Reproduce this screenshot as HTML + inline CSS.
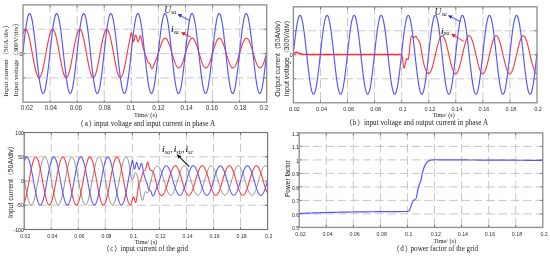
<!DOCTYPE html>
<html><head><meta charset="utf-8"><title>figure</title>
<style>html,body{margin:0;padding:0;background:#fff;}svg{display:block;}svg text{stroke:none;}</style></head>
<body><svg width="550" height="257" viewBox="0 0 550 257">
<defs><filter id="soft" x="0" y="0" width="100%" height="100%"><feGaussianBlur stdDeviation="0.35"/></filter></defs>
<rect width="550" height="257" fill="#fff"/>
<g filter="url(#soft)">
<rect width="550" height="257" fill="#fff"/>
<path d="M50.08,4.90V102.20M77.16,4.90V102.20M104.23,4.90V102.20M131.31,4.90V102.20M158.39,4.90V102.20M185.47,4.90V102.20M212.54,4.90V102.20M239.62,4.90V102.20" stroke="#c8c8c8" stroke-width="1" stroke-dasharray="8.6 3.75" stroke-dashoffset="1.25" fill="none"/>
<path d="M23.00,29.23H266.70M23.00,53.55H266.70M23.00,77.88H266.70" stroke="#c8c8c8" stroke-width="1" stroke-dasharray="8.6 3.75" stroke-dashoffset="10.7" fill="none"/>
<path d="M50.08,4.90v2.4M50.08,102.20v-2.4M77.16,4.90v2.4M77.16,102.20v-2.4M104.23,4.90v2.4M104.23,102.20v-2.4M131.31,4.90v2.4M131.31,102.20v-2.4M158.39,4.90v2.4M158.39,102.20v-2.4M185.47,4.90v2.4M185.47,102.20v-2.4M212.54,4.90v2.4M212.54,102.20v-2.4M239.62,4.90v2.4M239.62,102.20v-2.4M23.00,29.23h2.4M266.70,29.23h-2.4M23.00,53.55h2.4M266.70,53.55h-2.4M23.00,77.88h2.4M266.70,77.88h-2.4" stroke="#555" stroke-width="0.8" fill="none"/>
<path d="M23.00,33.63 L23.34,32.63 L23.68,31.76 L24.02,31.02 L24.35,30.42 L24.69,29.97 L25.03,29.66 L25.37,29.49 L25.71,29.48 L26.05,29.61 L26.38,29.89 L26.72,30.32 L27.06,30.89 L27.40,31.60 L27.74,32.45 L28.08,33.42 L28.42,34.52 L28.75,35.74 L29.09,37.06 L29.43,38.49 L29.77,40.01 L30.11,41.62 L30.45,43.30 L30.78,45.04 L31.12,46.83 L31.46,48.67 L31.80,50.53 L32.14,52.42 L32.48,54.31 L32.82,56.19 L33.15,58.06 L33.49,59.90 L33.83,61.71 L34.17,63.46 L34.51,65.15 L34.85,66.77 L35.19,68.31 L35.52,69.76 L35.86,71.10 L36.20,72.34 L36.54,73.47 L36.88,74.47 L37.22,75.34 L37.55,76.08 L37.89,76.68 L38.23,77.13 L38.57,77.44 L38.91,77.61 L39.25,77.62 L39.59,77.49 L39.92,77.21 L40.26,76.78 L40.60,76.21 L40.94,75.50 L41.28,74.65 L41.62,73.68 L41.95,72.58 L42.29,71.36 L42.63,70.04 L42.97,68.61 L43.31,67.09 L43.65,65.48 L43.99,63.80 L44.32,62.06 L44.66,60.27 L45.00,58.43 L45.34,56.57 L45.68,54.68 L46.02,52.79 L46.35,50.91 L46.69,49.04 L47.03,47.20 L47.37,45.39 L47.71,43.64 L48.05,41.95 L48.39,40.33 L48.72,38.79 L49.06,37.34 L49.40,36.00 L49.74,34.76 L50.08,33.63 L50.42,32.63 L50.75,31.76 L51.09,31.02 L51.43,30.42 L51.77,29.97 L52.11,29.66 L52.45,29.49 L52.79,29.48 L53.12,29.61 L53.46,29.89 L53.80,30.32 L54.14,30.89 L54.48,31.60 L54.82,32.45 L55.15,33.42 L55.49,34.52 L55.83,35.74 L56.17,37.06 L56.51,38.49 L56.85,40.01 L57.19,41.62 L57.52,43.30 L57.86,45.04 L58.20,46.83 L58.54,48.67 L58.88,50.53 L59.22,52.42 L59.56,54.31 L59.89,56.19 L60.23,58.06 L60.57,59.90 L60.91,61.71 L61.25,63.46 L61.59,65.15 L61.92,66.77 L62.26,68.31 L62.60,69.76 L62.94,71.10 L63.28,72.34 L63.62,73.47 L63.96,74.47 L64.29,75.34 L64.63,76.08 L64.97,76.68 L65.31,77.13 L65.65,77.44 L65.99,77.61 L66.32,77.62 L66.66,77.49 L67.00,77.21 L67.34,76.78 L67.68,76.21 L68.02,75.50 L68.36,74.65 L68.69,73.68 L69.03,72.58 L69.37,71.36 L69.71,70.04 L70.05,68.61 L70.39,67.09 L70.72,65.48 L71.06,63.80 L71.40,62.06 L71.74,60.27 L72.08,58.43 L72.42,56.57 L72.76,54.68 L73.09,52.79 L73.43,50.91 L73.77,49.04 L74.11,47.20 L74.45,45.39 L74.79,43.64 L75.12,41.95 L75.46,40.33 L75.80,38.79 L76.14,37.34 L76.48,36.00 L76.82,34.76 L77.16,33.63 L77.49,32.63 L77.83,31.76 L78.17,31.02 L78.51,30.42 L78.85,29.97 L79.19,29.66 L79.52,29.49 L79.86,29.48 L80.20,29.61 L80.54,29.89 L80.88,30.32 L81.22,30.89 L81.56,31.60 L81.89,32.45 L82.23,33.42 L82.57,34.52 L82.91,35.74 L83.25,37.06 L83.59,38.49 L83.93,40.01 L84.26,41.62 L84.60,43.30 L84.94,45.04 L85.28,46.83 L85.62,48.67 L85.96,50.53 L86.29,52.42 L86.63,54.31 L86.97,56.19 L87.31,58.06 L87.65,59.90 L87.99,61.71 L88.33,63.46 L88.66,65.15 L89.00,66.77 L89.34,68.31 L89.68,69.76 L90.02,71.10 L90.36,72.34 L90.69,73.47 L91.03,74.47 L91.37,75.34 L91.71,76.08 L92.05,76.68 L92.39,77.13 L92.73,77.44 L93.06,77.61 L93.40,77.62 L93.74,77.49 L94.08,77.21 L94.42,76.78 L94.76,76.21 L95.09,75.50 L95.43,74.65 L95.77,73.68 L96.11,72.58 L96.45,71.36 L96.79,70.04 L97.13,68.61 L97.46,67.09 L97.80,65.48 L98.14,63.80 L98.48,62.06 L98.82,60.27 L99.16,58.43 L99.49,56.57 L99.83,54.68 L100.17,52.79 L100.51,50.91 L100.85,49.04 L101.19,47.20 L101.53,45.39 L101.86,43.64 L102.20,41.95 L102.54,40.33 L102.88,38.79 L103.22,37.34 L103.56,36.00 L103.89,34.76 L104.23,33.63 L104.57,32.63 L104.91,31.76 L105.25,31.02 L105.59,30.42 L105.93,29.97 L106.26,29.66 L106.60,29.49 L106.94,29.48 L107.28,29.61 L107.62,29.89 L107.96,30.32 L108.30,30.89 L108.63,31.60 L108.97,32.45 L109.31,33.42 L109.65,34.52 L109.99,35.74 L110.33,37.06 L110.66,38.49 L111.00,40.01 L111.34,41.62 L111.68,43.30 L112.02,45.04 L112.36,46.83 L112.70,48.67 L113.03,50.53 L113.37,52.42 L113.71,54.31 L114.05,56.19 L114.39,58.06 L114.73,59.90 L115.06,61.71 L115.40,63.46 L115.74,65.15 L116.08,66.77 L116.42,68.31 L116.76,69.76 L117.10,71.10 L117.43,72.34 L117.77,73.47 L118.11,74.47 L118.45,75.34 L118.79,76.08 L119.13,76.68 L119.46,77.13 L119.80,77.44 L120.14,77.61 L120.48,77.62 L120.82,77.49 L121.16,77.21 L121.50,76.78 L121.83,76.21 L122.17,75.50 L122.51,74.65 L122.85,73.68 L123.19,72.58 L123.53,71.36 L123.86,70.04 L124.20,68.61 L124.54,67.09 L124.88,65.48 L125.22,63.80 L125.56,62.06 L125.90,60.27 L126.23,58.43 L126.57,56.57 L126.91,54.68 L127.25,52.79 L127.59,50.91 L127.93,49.04 L128.26,47.20 L128.60,45.39 L128.94,43.64 L129.28,41.95 L129.62,40.33 L129.96,38.79 L130.30,37.27 L130.63,35.37 L130.97,33.64 L131.31,32.67 L131.65,33.01 L131.99,34.57 L132.33,36.79 L132.67,39.10 L133.00,40.92 L133.34,41.72 L133.68,41.42 L134.02,40.36 L134.36,38.87 L134.70,37.27 L135.03,35.89 L135.37,35.06 L135.71,35.03 L136.05,35.66 L136.39,36.76 L136.73,38.11 L137.07,39.51 L137.40,40.74 L137.74,41.60 L138.08,41.87 L138.42,41.43 L138.76,40.44 L139.10,39.14 L139.43,37.78 L139.77,36.60 L140.11,35.84 L140.45,35.75 L140.79,36.41 L141.13,37.66 L141.47,39.31 L141.80,41.18 L142.14,43.09 L142.48,44.85 L142.82,46.41 L143.16,47.79 L143.50,49.01 L143.83,50.11 L144.17,51.12 L144.51,52.06 L144.85,52.96 L145.19,53.88 L145.53,54.83 L145.87,55.85 L146.20,56.98 L146.54,58.16 L146.88,59.33 L147.22,60.43 L147.56,61.38 L147.90,62.12 L148.23,62.60 L148.57,62.86 L148.91,63.02 L149.25,63.18 L149.59,63.47 L149.93,64.00 L150.27,64.86 L150.60,66.00 L150.94,67.14 L151.28,68.02 L151.62,68.53 L151.96,68.68 L152.30,68.50 L152.63,68.04 L152.97,67.37 L153.31,66.55 L153.65,65.66 L153.99,64.77 L154.33,63.89 L154.67,63.02 L155.00,62.15 L155.34,61.29 L155.68,60.43 L156.02,59.57 L156.36,58.70 L156.70,57.82 L157.04,56.92 L157.37,56.00 L157.71,55.06 L158.05,54.09 L158.39,53.08 L158.73,52.03 L159.07,50.93 L159.40,49.78 L159.74,48.66 L160.08,47.56 L160.42,46.49 L160.76,45.47 L161.10,44.49 L161.44,43.57 L161.77,42.70 L162.11,41.90 L162.45,41.17 L162.79,40.51 L163.13,39.93 L163.47,39.43 L163.80,39.01 L164.14,38.68 L164.48,38.44 L164.82,38.29 L165.16,38.23 L165.50,38.26 L165.84,38.38 L166.17,38.59 L166.51,38.89 L166.85,39.28 L167.19,39.76 L167.53,40.32 L167.87,40.95 L168.20,41.66 L168.54,42.44 L168.88,43.29 L169.22,44.19 L169.56,45.15 L169.90,46.16 L170.24,47.21 L170.57,48.30 L170.91,49.42 L171.25,50.56 L171.59,51.71 L171.93,52.88 L172.27,54.04 L172.60,55.20 L172.94,56.35 L173.28,57.47 L173.62,58.57 L173.96,59.63 L174.30,60.66 L174.64,61.63 L174.97,62.56 L175.31,63.42 L175.65,64.22 L175.99,64.96 L176.33,65.62 L176.67,66.20 L177.00,66.70 L177.34,67.12 L177.68,67.45 L178.02,67.69 L178.36,67.84 L178.70,67.90 L179.04,67.87 L179.37,67.75 L179.71,67.53 L180.05,67.23 L180.39,66.84 L180.73,66.37 L181.07,65.81 L181.41,65.18 L181.74,64.47 L182.08,63.69 L182.42,62.84 L182.76,61.94 L183.10,60.97 L183.44,59.97 L183.77,58.91 L184.11,57.83 L184.45,56.71 L184.79,55.57 L185.13,54.41 L185.47,53.25 L185.81,52.09 L186.14,50.93 L186.48,49.78 L186.82,48.66 L187.16,47.56 L187.50,46.49 L187.84,45.47 L188.17,44.49 L188.51,43.57 L188.85,42.70 L189.19,41.90 L189.53,41.17 L189.87,40.51 L190.21,39.93 L190.54,39.43 L190.88,39.01 L191.22,38.68 L191.56,38.44 L191.90,38.29 L192.24,38.23 L192.57,38.26 L192.91,38.38 L193.25,38.59 L193.59,38.89 L193.93,39.28 L194.27,39.76 L194.61,40.32 L194.94,40.95 L195.28,41.66 L195.62,42.44 L195.96,43.29 L196.30,44.19 L196.64,45.15 L196.97,46.16 L197.31,47.21 L197.65,48.30 L197.99,49.42 L198.33,50.56 L198.67,51.71 L199.01,52.88 L199.34,54.04 L199.68,55.20 L200.02,56.35 L200.36,57.47 L200.70,58.57 L201.04,59.63 L201.37,60.66 L201.71,61.63 L202.05,62.56 L202.39,63.42 L202.73,64.22 L203.07,64.96 L203.41,65.62 L203.74,66.20 L204.08,66.70 L204.42,67.12 L204.76,67.45 L205.10,67.69 L205.44,67.84 L205.78,67.90 L206.11,67.87 L206.45,67.75 L206.79,67.53 L207.13,67.23 L207.47,66.84 L207.81,66.37 L208.14,65.81 L208.48,65.18 L208.82,64.47 L209.16,63.69 L209.50,62.84 L209.84,61.94 L210.18,60.97 L210.51,59.97 L210.85,58.91 L211.19,57.83 L211.53,56.71 L211.87,55.57 L212.21,54.41 L212.54,53.25 L212.88,52.09 L213.22,50.93 L213.56,49.78 L213.90,48.66 L214.24,47.56 L214.58,46.49 L214.91,45.47 L215.25,44.49 L215.59,43.57 L215.93,42.70 L216.27,41.90 L216.61,41.17 L216.94,40.51 L217.28,39.93 L217.62,39.43 L217.96,39.01 L218.30,38.68 L218.64,38.44 L218.98,38.29 L219.31,38.23 L219.65,38.26 L219.99,38.38 L220.33,38.59 L220.67,38.89 L221.01,39.28 L221.34,39.76 L221.68,40.32 L222.02,40.95 L222.36,41.66 L222.70,42.44 L223.04,43.29 L223.38,44.19 L223.71,45.15 L224.05,46.16 L224.39,47.21 L224.73,48.30 L225.07,49.42 L225.41,50.56 L225.74,51.71 L226.08,52.88 L226.42,54.04 L226.76,55.20 L227.10,56.35 L227.44,57.47 L227.78,58.57 L228.11,59.63 L228.45,60.66 L228.79,61.63 L229.13,62.56 L229.47,63.42 L229.81,64.22 L230.15,64.96 L230.48,65.62 L230.82,66.20 L231.16,66.70 L231.50,67.12 L231.84,67.45 L232.18,67.69 L232.51,67.84 L232.85,67.90 L233.19,67.87 L233.53,67.75 L233.87,67.53 L234.21,67.23 L234.55,66.84 L234.88,66.37 L235.22,65.81 L235.56,65.18 L235.90,64.47 L236.24,63.69 L236.58,62.84 L236.91,61.94 L237.25,60.97 L237.59,59.97 L237.93,58.91 L238.27,57.83 L238.61,56.71 L238.95,55.57 L239.28,54.41 L239.62,53.25 L239.96,52.09 L240.30,50.93 L240.64,49.78 L240.98,48.66 L241.31,47.56 L241.65,46.49 L241.99,45.47 L242.33,44.49 L242.67,43.57 L243.01,42.70 L243.35,41.90 L243.68,41.17 L244.02,40.51 L244.36,39.93 L244.70,39.43 L245.04,39.01 L245.38,38.68 L245.71,38.44 L246.05,38.29 L246.39,38.23 L246.73,38.26 L247.07,38.38 L247.41,38.59 L247.75,38.89 L248.08,39.28 L248.42,39.76 L248.76,40.32 L249.10,40.95 L249.44,41.66 L249.78,42.44 L250.11,43.29 L250.45,44.19 L250.79,45.15 L251.13,46.16 L251.47,47.21 L251.81,48.30 L252.15,49.42 L252.48,50.56 L252.82,51.71 L253.16,52.88 L253.50,54.04 L253.84,55.20 L254.18,56.35 L254.52,57.47 L254.85,58.57 L255.19,59.63 L255.53,60.66 L255.87,61.63 L256.21,62.56 L256.55,63.42 L256.88,64.22 L257.22,64.96 L257.56,65.62 L257.90,66.20 L258.24,66.70 L258.58,67.12 L258.92,67.45 L259.25,67.69 L259.59,67.84 L259.93,67.90 L260.27,67.87 L260.61,67.75 L260.95,67.53 L261.28,67.23 L261.62,66.84 L261.96,66.37 L262.30,65.81 L262.64,65.18 L262.98,64.47 L263.32,63.69 L263.65,62.84 L263.99,61.94 L264.33,60.97 L264.67,59.97 L265.01,58.91 L265.35,57.83 L265.68,56.71 L266.02,55.57 L266.36,54.41 L266.70,53.25" stroke="#ff3535" stroke-width="1.10" fill="none" stroke-linejoin="round"/>
<path d="M23.00,51.92 L23.34,48.79 L23.68,45.69 L24.02,42.63 L24.35,39.65 L24.69,36.75 L25.03,33.96 L25.37,31.28 L25.71,28.74 L26.05,26.36 L26.38,24.14 L26.72,22.11 L27.06,20.26 L27.40,18.63 L27.74,17.21 L28.08,16.01 L28.42,15.04 L28.75,14.32 L29.09,13.83 L29.43,13.59 L29.77,13.59 L30.11,13.84 L30.45,14.34 L30.78,15.08 L31.12,16.05 L31.46,17.26 L31.80,18.69 L32.14,20.33 L32.48,22.18 L32.82,24.23 L33.15,26.45 L33.49,28.84 L33.83,31.38 L34.17,34.06 L34.51,36.86 L34.85,39.77 L35.19,42.76 L35.52,45.81 L35.86,48.91 L36.20,52.04 L36.54,55.18 L36.88,58.31 L37.22,61.41 L37.55,64.47 L37.89,67.45 L38.23,70.35 L38.57,73.14 L38.91,75.82 L39.25,78.36 L39.59,80.74 L39.92,82.96 L40.26,84.99 L40.60,86.84 L40.94,88.47 L41.28,89.89 L41.62,91.09 L41.95,92.06 L42.29,92.78 L42.63,93.27 L42.97,93.51 L43.31,93.51 L43.65,93.26 L43.99,92.76 L44.32,92.02 L44.66,91.05 L45.00,89.84 L45.34,88.41 L45.68,86.77 L46.02,84.92 L46.35,82.87 L46.69,80.65 L47.03,78.26 L47.37,75.72 L47.71,73.04 L48.05,70.24 L48.39,67.33 L48.72,64.34 L49.06,61.29 L49.40,58.19 L49.74,55.06 L50.08,51.92 L50.42,48.79 L50.75,45.69 L51.09,42.63 L51.43,39.65 L51.77,36.75 L52.11,33.96 L52.45,31.28 L52.79,28.74 L53.12,26.36 L53.46,24.14 L53.80,22.11 L54.14,20.26 L54.48,18.63 L54.82,17.21 L55.15,16.01 L55.49,15.04 L55.83,14.32 L56.17,13.83 L56.51,13.59 L56.85,13.59 L57.19,13.84 L57.52,14.34 L57.86,15.08 L58.20,16.05 L58.54,17.26 L58.88,18.69 L59.22,20.33 L59.56,22.18 L59.89,24.23 L60.23,26.45 L60.57,28.84 L60.91,31.38 L61.25,34.06 L61.59,36.86 L61.92,39.77 L62.26,42.76 L62.60,45.81 L62.94,48.91 L63.28,52.04 L63.62,55.18 L63.96,58.31 L64.29,61.41 L64.63,64.47 L64.97,67.45 L65.31,70.35 L65.65,73.14 L65.99,75.82 L66.32,78.36 L66.66,80.74 L67.00,82.96 L67.34,84.99 L67.68,86.84 L68.02,88.47 L68.36,89.89 L68.69,91.09 L69.03,92.06 L69.37,92.78 L69.71,93.27 L70.05,93.51 L70.39,93.51 L70.72,93.26 L71.06,92.76 L71.40,92.02 L71.74,91.05 L72.08,89.84 L72.42,88.41 L72.76,86.77 L73.09,84.92 L73.43,82.87 L73.77,80.65 L74.11,78.26 L74.45,75.72 L74.79,73.04 L75.12,70.24 L75.46,67.33 L75.80,64.34 L76.14,61.29 L76.48,58.19 L76.82,55.06 L77.16,51.92 L77.49,48.79 L77.83,45.69 L78.17,42.63 L78.51,39.65 L78.85,36.75 L79.19,33.96 L79.52,31.28 L79.86,28.74 L80.20,26.36 L80.54,24.14 L80.88,22.11 L81.22,20.26 L81.56,18.63 L81.89,17.21 L82.23,16.01 L82.57,15.04 L82.91,14.32 L83.25,13.83 L83.59,13.59 L83.93,13.59 L84.26,13.84 L84.60,14.34 L84.94,15.08 L85.28,16.05 L85.62,17.26 L85.96,18.69 L86.29,20.33 L86.63,22.18 L86.97,24.23 L87.31,26.45 L87.65,28.84 L87.99,31.38 L88.33,34.06 L88.66,36.86 L89.00,39.77 L89.34,42.76 L89.68,45.81 L90.02,48.91 L90.36,52.04 L90.69,55.18 L91.03,58.31 L91.37,61.41 L91.71,64.47 L92.05,67.45 L92.39,70.35 L92.73,73.14 L93.06,75.82 L93.40,78.36 L93.74,80.74 L94.08,82.96 L94.42,84.99 L94.76,86.84 L95.09,88.47 L95.43,89.89 L95.77,91.09 L96.11,92.06 L96.45,92.78 L96.79,93.27 L97.13,93.51 L97.46,93.51 L97.80,93.26 L98.14,92.76 L98.48,92.02 L98.82,91.05 L99.16,89.84 L99.49,88.41 L99.83,86.77 L100.17,84.92 L100.51,82.87 L100.85,80.65 L101.19,78.26 L101.53,75.72 L101.86,73.04 L102.20,70.24 L102.54,67.33 L102.88,64.34 L103.22,61.29 L103.56,58.19 L103.89,55.06 L104.23,51.92 L104.57,48.79 L104.91,45.69 L105.25,42.63 L105.59,39.65 L105.93,36.75 L106.26,33.96 L106.60,31.28 L106.94,28.74 L107.28,26.36 L107.62,24.14 L107.96,22.11 L108.30,20.26 L108.63,18.63 L108.97,17.21 L109.31,16.01 L109.65,15.04 L109.99,14.32 L110.33,13.83 L110.66,13.59 L111.00,13.59 L111.34,13.84 L111.68,14.34 L112.02,15.08 L112.36,16.05 L112.70,17.26 L113.03,18.69 L113.37,20.33 L113.71,22.18 L114.05,24.23 L114.39,26.45 L114.73,28.84 L115.06,31.38 L115.40,34.06 L115.74,36.86 L116.08,39.77 L116.42,42.76 L116.76,45.81 L117.10,48.91 L117.43,52.04 L117.77,55.18 L118.11,58.31 L118.45,61.41 L118.79,64.47 L119.13,67.45 L119.46,70.35 L119.80,73.14 L120.14,75.82 L120.48,78.36 L120.82,80.74 L121.16,82.96 L121.50,84.99 L121.83,86.84 L122.17,88.47 L122.51,89.89 L122.85,91.09 L123.19,92.06 L123.53,92.78 L123.86,93.27 L124.20,93.51 L124.54,93.51 L124.88,93.26 L125.22,92.76 L125.56,92.02 L125.90,91.05 L126.23,89.84 L126.57,88.41 L126.91,86.77 L127.25,84.92 L127.59,82.87 L127.93,80.65 L128.26,78.26 L128.60,75.72 L128.94,73.04 L129.28,70.24 L129.62,67.33 L129.96,64.34 L130.30,61.29 L130.63,58.19 L130.97,55.06 L131.31,51.92 L131.65,48.79 L131.99,45.69 L132.33,42.63 L132.67,39.65 L133.00,36.75 L133.34,33.96 L133.68,31.28 L134.02,28.74 L134.36,26.36 L134.70,24.14 L135.03,22.11 L135.37,20.26 L135.71,18.63 L136.05,17.21 L136.39,16.01 L136.73,15.04 L137.07,14.32 L137.40,13.83 L137.74,13.59 L138.08,13.59 L138.42,13.84 L138.76,14.34 L139.10,15.08 L139.43,16.05 L139.77,17.26 L140.11,18.69 L140.45,20.33 L140.79,22.18 L141.13,24.23 L141.47,26.45 L141.80,28.84 L142.14,31.38 L142.48,34.06 L142.82,36.86 L143.16,39.77 L143.50,42.76 L143.83,45.81 L144.17,48.91 L144.51,52.04 L144.85,55.18 L145.19,58.31 L145.53,61.41 L145.87,64.47 L146.20,67.45 L146.54,70.35 L146.88,73.14 L147.22,75.82 L147.56,78.36 L147.90,80.74 L148.23,82.96 L148.57,84.99 L148.91,86.84 L149.25,88.47 L149.59,89.89 L149.93,91.09 L150.27,92.06 L150.60,92.78 L150.94,93.27 L151.28,93.51 L151.62,93.51 L151.96,93.26 L152.30,92.76 L152.63,92.02 L152.97,91.05 L153.31,89.84 L153.65,88.41 L153.99,86.77 L154.33,84.92 L154.67,82.87 L155.00,80.65 L155.34,78.26 L155.68,75.72 L156.02,73.04 L156.36,70.24 L156.70,67.33 L157.04,64.34 L157.37,61.29 L157.71,58.19 L158.05,55.06 L158.39,51.92 L158.73,48.79 L159.07,45.69 L159.40,42.63 L159.74,39.65 L160.08,36.75 L160.42,33.96 L160.76,31.28 L161.10,28.74 L161.44,26.36 L161.77,24.14 L162.11,22.11 L162.45,20.26 L162.79,18.63 L163.13,17.21 L163.47,16.01 L163.80,15.04 L164.14,14.32 L164.48,13.83 L164.82,13.59 L165.16,13.59 L165.50,13.84 L165.84,14.34 L166.17,15.08 L166.51,16.05 L166.85,17.26 L167.19,18.69 L167.53,20.33 L167.87,22.18 L168.20,24.23 L168.54,26.45 L168.88,28.84 L169.22,31.38 L169.56,34.06 L169.90,36.86 L170.24,39.77 L170.57,42.76 L170.91,45.81 L171.25,48.91 L171.59,52.04 L171.93,55.18 L172.27,58.31 L172.60,61.41 L172.94,64.47 L173.28,67.45 L173.62,70.35 L173.96,73.14 L174.30,75.82 L174.64,78.36 L174.97,80.74 L175.31,82.96 L175.65,84.99 L175.99,86.84 L176.33,88.47 L176.67,89.89 L177.00,91.09 L177.34,92.06 L177.68,92.78 L178.02,93.27 L178.36,93.51 L178.70,93.51 L179.04,93.26 L179.37,92.76 L179.71,92.02 L180.05,91.05 L180.39,89.84 L180.73,88.41 L181.07,86.77 L181.41,84.92 L181.74,82.87 L182.08,80.65 L182.42,78.26 L182.76,75.72 L183.10,73.04 L183.44,70.24 L183.77,67.33 L184.11,64.34 L184.45,61.29 L184.79,58.19 L185.13,55.06 L185.47,51.92 L185.81,48.79 L186.14,45.69 L186.48,42.63 L186.82,39.65 L187.16,36.75 L187.50,33.96 L187.84,31.28 L188.17,28.74 L188.51,26.36 L188.85,24.14 L189.19,22.11 L189.53,20.26 L189.87,18.63 L190.21,17.21 L190.54,16.01 L190.88,15.04 L191.22,14.32 L191.56,13.83 L191.90,13.59 L192.24,13.59 L192.57,13.84 L192.91,14.34 L193.25,15.08 L193.59,16.05 L193.93,17.26 L194.27,18.69 L194.61,20.33 L194.94,22.18 L195.28,24.23 L195.62,26.45 L195.96,28.84 L196.30,31.38 L196.64,34.06 L196.97,36.86 L197.31,39.77 L197.65,42.76 L197.99,45.81 L198.33,48.91 L198.67,52.04 L199.01,55.18 L199.34,58.31 L199.68,61.41 L200.02,64.47 L200.36,67.45 L200.70,70.35 L201.04,73.14 L201.37,75.82 L201.71,78.36 L202.05,80.74 L202.39,82.96 L202.73,84.99 L203.07,86.84 L203.41,88.47 L203.74,89.89 L204.08,91.09 L204.42,92.06 L204.76,92.78 L205.10,93.27 L205.44,93.51 L205.78,93.51 L206.11,93.26 L206.45,92.76 L206.79,92.02 L207.13,91.05 L207.47,89.84 L207.81,88.41 L208.14,86.77 L208.48,84.92 L208.82,82.87 L209.16,80.65 L209.50,78.26 L209.84,75.72 L210.18,73.04 L210.51,70.24 L210.85,67.33 L211.19,64.34 L211.53,61.29 L211.87,58.19 L212.21,55.06 L212.54,51.92 L212.88,48.79 L213.22,45.69 L213.56,42.63 L213.90,39.65 L214.24,36.75 L214.58,33.96 L214.91,31.28 L215.25,28.74 L215.59,26.36 L215.93,24.14 L216.27,22.11 L216.61,20.26 L216.94,18.63 L217.28,17.21 L217.62,16.01 L217.96,15.04 L218.30,14.32 L218.64,13.83 L218.98,13.59 L219.31,13.59 L219.65,13.84 L219.99,14.34 L220.33,15.08 L220.67,16.05 L221.01,17.26 L221.34,18.69 L221.68,20.33 L222.02,22.18 L222.36,24.23 L222.70,26.45 L223.04,28.84 L223.38,31.38 L223.71,34.06 L224.05,36.86 L224.39,39.77 L224.73,42.76 L225.07,45.81 L225.41,48.91 L225.74,52.04 L226.08,55.18 L226.42,58.31 L226.76,61.41 L227.10,64.47 L227.44,67.45 L227.78,70.35 L228.11,73.14 L228.45,75.82 L228.79,78.36 L229.13,80.74 L229.47,82.96 L229.81,84.99 L230.15,86.84 L230.48,88.47 L230.82,89.89 L231.16,91.09 L231.50,92.06 L231.84,92.78 L232.18,93.27 L232.51,93.51 L232.85,93.51 L233.19,93.26 L233.53,92.76 L233.87,92.02 L234.21,91.05 L234.55,89.84 L234.88,88.41 L235.22,86.77 L235.56,84.92 L235.90,82.87 L236.24,80.65 L236.58,78.26 L236.91,75.72 L237.25,73.04 L237.59,70.24 L237.93,67.33 L238.27,64.34 L238.61,61.29 L238.95,58.19 L239.28,55.06 L239.62,51.92 L239.96,48.79 L240.30,45.69 L240.64,42.63 L240.98,39.65 L241.31,36.75 L241.65,33.96 L241.99,31.28 L242.33,28.74 L242.67,26.36 L243.01,24.14 L243.35,22.11 L243.68,20.26 L244.02,18.63 L244.36,17.21 L244.70,16.01 L245.04,15.04 L245.38,14.32 L245.71,13.83 L246.05,13.59 L246.39,13.59 L246.73,13.84 L247.07,14.34 L247.41,15.08 L247.75,16.05 L248.08,17.26 L248.42,18.69 L248.76,20.33 L249.10,22.18 L249.44,24.23 L249.78,26.45 L250.11,28.84 L250.45,31.38 L250.79,34.06 L251.13,36.86 L251.47,39.77 L251.81,42.76 L252.15,45.81 L252.48,48.91 L252.82,52.04 L253.16,55.18 L253.50,58.31 L253.84,61.41 L254.18,64.47 L254.52,67.45 L254.85,70.35 L255.19,73.14 L255.53,75.82 L255.87,78.36 L256.21,80.74 L256.55,82.96 L256.88,84.99 L257.22,86.84 L257.56,88.47 L257.90,89.89 L258.24,91.09 L258.58,92.06 L258.92,92.78 L259.25,93.27 L259.59,93.51 L259.93,93.51 L260.27,93.26 L260.61,92.76 L260.95,92.02 L261.28,91.05 L261.62,89.84 L261.96,88.41 L262.30,86.77 L262.64,84.92 L262.98,82.87 L263.32,80.65 L263.65,78.26 L263.99,75.72 L264.33,73.04 L264.67,70.24 L265.01,67.33 L265.35,64.34 L265.68,61.29 L266.02,58.19 L266.36,55.06 L266.70,51.92" stroke="#5555ff" stroke-width="1.15" fill="none" stroke-linejoin="round"/>
<rect x="23.00" y="4.90" width="243.70" height="97.30" fill="none" stroke="#8c8c8c" stroke-width="1.30"/>
<text x="26.80" y="109.90" font-size="6.30" font-family="'Liberation Sans', Arial, sans-serif" text-anchor="middle" fill="#333">0.02</text>
<text x="50.90" y="109.90" font-size="6.30" font-family="'Liberation Sans', Arial, sans-serif" text-anchor="middle" fill="#333">0.04</text>
<text x="75.90" y="109.90" font-size="6.30" font-family="'Liberation Sans', Arial, sans-serif" text-anchor="middle" fill="#333">0.06</text>
<text x="104.70" y="109.90" font-size="6.30" font-family="'Liberation Sans', Arial, sans-serif" text-anchor="middle" fill="#333">0.08</text>
<text x="130.90" y="109.90" font-size="6.30" font-family="'Liberation Sans', Arial, sans-serif" text-anchor="middle" fill="#333">0.1</text>
<text x="158.30" y="109.90" font-size="6.30" font-family="'Liberation Sans', Arial, sans-serif" text-anchor="middle" fill="#333">0.12</text>
<text x="186.70" y="109.90" font-size="6.30" font-family="'Liberation Sans', Arial, sans-serif" text-anchor="middle" fill="#333">0.14</text>
<text x="211.80" y="109.90" font-size="6.30" font-family="'Liberation Sans', Arial, sans-serif" text-anchor="middle" fill="#333">0.16</text>
<text x="240.30" y="109.90" font-size="6.30" font-family="'Liberation Sans', Arial, sans-serif" text-anchor="middle" fill="#333">0.18</text>
<text x="263.90" y="109.90" font-size="6.30" font-family="'Liberation Sans', Arial, sans-serif" text-anchor="middle" fill="#333">0.2</text>
<text x="22.60" y="56.20" font-size="5.60" font-family="'Liberation Sans', Arial, sans-serif" text-anchor="end" fill="#222">0</text>
<path d="M320.47,6.80V102.80M347.53,6.80V102.80M374.60,6.80V102.80M401.67,6.80V102.80M428.73,6.80V102.80M455.80,6.80V102.80M482.87,6.80V102.80M509.93,6.80V102.80" stroke="#c8c8c8" stroke-width="1" stroke-dasharray="8.6 3.75" stroke-dashoffset="1.25" fill="none"/>
<path d="M293.40,30.80H537.00M293.40,54.80H537.00M293.40,78.80H537.00" stroke="#c8c8c8" stroke-width="1" stroke-dasharray="8.6 3.75" stroke-dashoffset="10.7" fill="none"/>
<path d="M320.47,6.80v2.4M320.47,102.80v-2.4M347.53,6.80v2.4M347.53,102.80v-2.4M374.60,6.80v2.4M374.60,102.80v-2.4M401.67,6.80v2.4M401.67,102.80v-2.4M428.73,6.80v2.4M428.73,102.80v-2.4M455.80,6.80v2.4M455.80,102.80v-2.4M482.87,6.80v2.4M482.87,102.80v-2.4M509.93,6.80v2.4M509.93,102.80v-2.4M293.40,30.80h2.4M537.00,30.80h-2.4M293.40,54.80h2.4M537.00,54.80h-2.4M293.40,78.80h2.4M537.00,78.80h-2.4" stroke="#555" stroke-width="0.8" fill="none"/>
<path d="M293.40,54.53 L293.54,54.40 L293.67,54.39 L293.81,54.29 L293.94,53.81 L294.08,53.43 L294.21,53.63 L294.35,54.01 L294.48,53.96 L294.62,53.68 L294.75,53.45 L294.89,53.07 L295.02,52.53 L295.16,52.26 L295.29,52.31 L295.43,52.21 L295.57,51.98 L295.70,52.17 L295.84,52.70 L295.97,52.91 L296.11,52.69 L296.24,52.46 L296.38,52.28 L296.51,52.01 L296.65,51.95 L296.78,52.36 L296.92,52.71 L297.05,52.59 L297.19,52.42 L297.32,52.61 L297.46,52.79 L297.60,52.65 L297.73,52.53 L297.87,52.62 L298.00,52.62 L298.14,52.59 L298.27,52.91 L298.41,53.36 L298.54,53.34 L298.68,53.02 L298.81,53.03 L298.95,53.37 L299.08,53.55 L299.22,53.60 L299.35,53.72 L299.49,53.67 L299.63,53.30 L299.76,53.11 L299.90,53.37 L300.03,53.57 L300.17,53.44 L300.30,53.47 L300.44,53.91 L300.57,54.27 L300.71,54.32 L300.84,54.31 L300.98,54.22 L301.11,53.82 L301.25,53.44 L301.38,53.65 L301.52,54.16 L301.66,54.31 L301.79,54.20 L301.93,54.27 L302.06,54.37 L302.20,54.20 L302.33,54.04 L302.47,54.10 L302.60,54.05 L302.74,53.84 L302.87,53.99 L303.01,54.57 L303.14,54.88 L303.28,54.68 L303.41,54.44 L303.55,54.39 L303.69,54.28 L303.82,54.17 L303.96,54.36 L304.09,54.54 L304.23,54.31 L304.36,54.03 L304.50,54.19 L304.63,54.48 L304.77,54.43 L304.90,54.29 L305.04,54.42 L305.17,54.60 L305.31,54.61 L305.44,54.73 L305.58,54.92 L305.72,54.68 L305.85,54.11 L305.99,53.92 L306.12,54.24 L306.26,54.50 L306.39,54.52 L306.53,54.62 L306.66,54.72 L306.80,54.53 L306.93,54.32 L307.07,54.42 L307.20,54.49 L307.34,54.21 L307.47,54.07 L307.61,54.47 L307.75,54.94 L307.88,55.01 L308.02,54.89 L308.15,54.76 L308.29,54.43 L308.42,54.02 L308.56,54.06 L308.69,54.43 L308.83,54.50 L308.96,54.29 L309.10,54.37 L309.23,54.67 L309.37,54.73 L309.50,54.59 L309.64,54.59 L309.78,54.58 L309.91,54.38 L310.05,54.39 L310.18,54.77 L310.32,54.95 L310.45,54.57 L310.59,54.19 L310.72,54.21 L310.86,54.32 L310.99,54.34 L311.13,54.51 L311.26,54.75 L311.40,54.64 L311.53,54.38 L311.67,54.46 L311.81,54.70 L311.94,54.56 L312.08,54.24 L312.21,54.31 L312.35,54.62 L312.48,54.77 L312.62,54.85 L312.75,54.95 L312.89,54.72 L313.02,54.14 L313.16,53.86 L313.29,54.14 L313.43,54.42 L313.56,54.40 L313.70,54.47 L313.84,54.75 L313.97,54.83 L314.11,54.72 L314.24,54.74 L314.38,54.73 L314.51,54.37 L314.65,54.07 L314.78,54.32 L314.92,54.75 L315.05,54.78 L315.19,54.55 L315.32,54.46 L315.46,54.37 L315.59,54.19 L315.73,54.26 L315.87,54.62 L316.00,54.71 L316.14,54.46 L316.27,54.44 L316.41,54.74 L316.54,54.81 L316.68,54.55 L316.81,54.41 L316.95,54.46 L317.08,54.41 L317.22,54.44 L317.35,54.76 L317.49,54.91 L317.62,54.50 L317.76,54.04 L317.90,54.06 L318.03,54.31 L318.17,54.39 L318.30,54.50 L318.44,54.78 L318.57,54.86 L318.71,54.71 L318.84,54.73 L318.98,54.86 L319.11,54.60 L319.25,54.08 L319.38,53.99 L319.52,54.34 L319.65,54.59 L319.79,54.65 L319.93,54.75 L320.06,54.69 L320.20,54.33 L320.33,54.12 L320.47,54.40 L320.60,54.66 L320.74,54.53 L320.87,54.43 L321.01,54.66 L321.14,54.85 L321.28,54.73 L321.41,54.62 L321.55,54.58 L321.68,54.32 L321.82,54.05 L321.96,54.27 L322.09,54.73 L322.23,54.75 L322.36,54.42 L322.50,54.31 L322.63,54.39 L322.77,54.37 L322.90,54.43 L323.04,54.73 L323.17,54.86 L323.31,54.64 L323.44,54.55 L323.58,54.78 L323.71,54.80 L323.85,54.37 L323.99,54.04 L324.12,54.11 L324.26,54.26 L324.39,54.40 L324.53,54.73 L324.66,54.98 L324.80,54.71 L324.93,54.27 L325.07,54.29 L325.20,54.54 L325.34,54.54 L325.47,54.43 L325.61,54.57 L325.74,54.75 L325.88,54.69 L326.02,54.67 L326.15,54.76 L326.29,54.54 L326.42,54.03 L326.56,53.90 L326.69,54.31 L326.83,54.65 L326.96,54.65 L327.10,54.65 L327.23,54.69 L327.37,54.52 L327.50,54.36 L327.64,54.57 L327.77,54.80 L327.91,54.61 L328.05,54.37 L328.18,54.53 L328.32,54.75 L328.45,54.60 L328.59,54.34 L328.72,54.27 L328.86,54.19 L328.99,54.10 L329.13,54.39 L329.26,54.92 L329.40,55.00 L329.53,54.62 L329.67,54.42 L329.80,54.51 L329.94,54.50 L330.08,54.39 L330.21,54.50 L330.35,54.64 L330.48,54.53 L330.62,54.48 L330.75,54.73 L330.89,54.80 L331.02,54.36 L331.16,53.95 L331.29,54.05 L331.43,54.35 L331.56,54.52 L331.70,54.76 L331.83,54.99 L331.97,54.84 L332.11,54.46 L332.24,54.43 L332.38,54.66 L332.51,54.58 L332.65,54.27 L332.78,54.29 L332.92,54.53 L333.05,54.57 L333.19,54.53 L333.32,54.59 L333.46,54.50 L333.59,54.14 L333.73,54.07 L333.86,54.55 L334.00,54.93 L334.14,54.84 L334.27,54.66 L334.41,54.65 L334.54,54.54 L334.68,54.34 L334.81,54.40 L334.95,54.58 L335.08,54.45 L335.22,54.25 L335.35,54.46 L335.49,54.80 L335.62,54.70 L335.76,54.33 L335.89,54.21 L336.03,54.25 L336.17,54.27 L336.30,54.52 L336.44,54.98 L336.57,55.09 L336.71,54.70 L336.84,54.43 L336.98,54.53 L337.11,54.52 L337.25,54.26 L337.38,54.18 L337.52,54.34 L337.65,54.41 L337.79,54.45 L337.92,54.73 L338.06,54.89 L338.20,54.54 L338.33,54.13 L338.47,54.24 L338.60,54.60 L338.74,54.72 L338.87,54.73 L339.01,54.82 L339.14,54.71 L339.28,54.38 L339.41,54.30 L339.55,54.52 L339.68,54.48 L339.82,54.17 L339.95,54.18 L340.09,54.56 L340.23,54.75 L340.36,54.65 L340.50,54.60 L340.63,54.53 L340.77,54.27 L340.90,54.21 L341.04,54.63 L341.17,55.01 L341.31,54.86 L341.44,54.54 L341.58,54.51 L341.71,54.49 L341.85,54.28 L341.98,54.19 L342.12,54.33 L342.26,54.33 L342.39,54.26 L342.53,54.55 L342.66,55.01 L342.80,54.97 L342.93,54.52 L343.07,54.29 L343.20,54.37 L343.34,54.41 L343.47,54.49 L343.61,54.77 L343.74,54.86 L343.88,54.53 L344.01,54.29 L344.15,54.45 L344.29,54.54 L344.42,54.28 L344.56,54.12 L344.69,54.33 L344.83,54.56 L344.96,54.65 L345.10,54.83 L345.23,54.95 L345.37,54.63 L345.50,54.19 L345.64,54.26 L345.77,54.64 L345.91,54.73 L346.04,54.57 L346.18,54.55 L346.32,54.54 L346.45,54.33 L346.59,54.23 L346.72,54.42 L346.86,54.46 L346.99,54.23 L347.13,54.28 L347.26,54.77 L347.40,55.06 L347.53,54.87 L347.67,54.62 L347.80,54.49 L347.94,54.27 L348.07,54.15 L348.21,54.44 L348.35,54.79 L348.48,54.67 L348.62,54.37 L348.75,54.42 L348.89,54.58 L349.02,54.45 L349.16,54.25 L349.29,54.33 L349.43,54.43 L349.56,54.43 L349.70,54.67 L349.83,55.08 L349.97,55.04 L350.10,54.51 L350.24,54.20 L350.38,54.31 L350.51,54.41 L350.65,54.39 L350.78,54.51 L350.92,54.64 L351.05,54.46 L351.19,54.29 L351.32,54.49 L351.46,54.67 L351.59,54.44 L351.73,54.22 L351.86,54.45 L352.00,54.79 L352.13,54.86 L352.27,54.83 L352.41,54.80 L352.54,54.49 L352.68,54.05 L352.81,54.07 L352.95,54.49 L353.08,54.64 L353.22,54.46 L353.35,54.45 L353.49,54.61 L353.62,54.57 L353.76,54.43 L353.89,54.50 L354.03,54.53 L354.16,54.33 L354.30,54.34 L354.44,54.80 L354.57,55.11 L354.71,54.85 L354.84,54.45 L354.98,54.31 L355.11,54.21 L355.25,54.11 L355.38,54.30 L355.52,54.63 L355.65,54.62 L355.79,54.39 L355.92,54.51 L356.06,54.80 L356.19,54.72 L356.33,54.40 L356.47,54.35 L356.60,54.49 L356.74,54.53 L356.87,54.65 L357.01,54.91 L357.14,54.85 L357.28,54.32 L357.41,54.00 L357.55,54.20 L357.68,54.44 L357.82,54.43 L357.95,54.48 L358.09,54.67 L358.22,54.66 L358.36,54.53 L358.50,54.64 L358.63,54.77 L358.77,54.49 L358.90,54.17 L359.04,54.36 L359.17,54.78 L359.31,54.85 L359.44,54.68 L359.58,54.57 L359.71,54.36 L359.85,54.03 L359.98,54.04 L360.12,54.47 L360.25,54.68 L360.39,54.52 L360.53,54.52 L360.66,54.80 L360.80,54.87 L360.93,54.64 L361.07,54.50 L361.20,54.46 L361.34,54.27 L361.47,54.23 L361.61,54.62 L361.74,54.95 L361.88,54.70 L362.01,54.27 L362.15,54.20 L362.28,54.31 L362.42,54.30 L362.56,54.40 L362.69,54.68 L362.83,54.74 L362.96,54.56 L363.10,54.63 L363.23,54.89 L363.37,54.78 L363.50,54.32 L363.64,54.15 L363.77,54.36 L363.91,54.50 L364.04,54.57 L364.18,54.73 L364.31,54.71 L364.45,54.30 L364.59,54.02 L364.72,54.28 L364.86,54.61 L364.99,54.59 L365.13,54.53 L365.26,54.73 L365.40,54.84 L365.53,54.71 L365.67,54.64 L365.80,54.64 L365.94,54.34 L366.07,53.98 L366.21,54.14 L366.34,54.65 L366.48,54.81 L366.62,54.60 L366.75,54.48 L366.89,54.44 L367.02,54.27 L367.16,54.26 L367.29,54.59 L367.43,54.78 L367.56,54.59 L367.70,54.51 L367.83,54.79 L367.97,54.91 L368.10,54.59 L368.24,54.28 L368.37,54.23 L368.51,54.18 L368.65,54.19 L368.78,54.54 L368.92,54.90 L369.05,54.73 L369.19,54.31 L369.32,54.29 L369.46,54.53 L369.59,54.55 L369.73,54.50 L369.86,54.65 L370.00,54.75 L370.13,54.61 L370.27,54.59 L370.40,54.76 L370.54,54.63 L370.68,54.12 L370.81,53.92 L370.95,54.23 L371.08,54.56 L371.22,54.64 L371.35,54.74 L371.49,54.78 L371.62,54.51 L371.76,54.25 L371.89,54.43 L372.03,54.72 L372.16,54.62 L372.30,54.42 L372.43,54.57 L372.57,54.79 L372.71,54.69 L372.84,54.50 L372.98,54.43 L373.11,54.22 L373.25,53.95 L373.38,54.14 L373.52,54.70 L373.65,54.94 L373.79,54.70 L373.92,54.54 L374.06,54.59 L374.19,54.53 L374.33,54.42 L374.46,54.55 L374.60,54.67 L374.74,54.49 L374.87,54.37 L375.01,54.64 L375.14,54.81 L375.28,54.49 L375.41,54.10 L375.55,54.11 L375.68,54.27 L375.82,54.39 L375.95,54.67 L376.09,55.00 L376.22,54.88 L376.36,54.46 L376.49,54.37 L376.63,54.61 L376.77,54.60 L376.90,54.37 L377.04,54.39 L377.17,54.57 L377.31,54.56 L377.44,54.53 L377.58,54.65 L377.71,54.57 L377.85,54.13 L377.98,53.93 L378.12,54.33 L378.25,54.77 L378.39,54.83 L378.52,54.79 L378.66,54.81 L378.80,54.64 L378.93,54.36 L379.07,54.40 L379.20,54.59 L379.34,54.45 L379.47,54.19 L379.61,54.35 L379.74,54.72 L379.88,54.72 L380.01,54.48 L380.15,54.37 L380.28,54.30 L380.42,54.17 L380.55,54.34 L380.69,54.85 L380.83,55.07 L380.96,54.75 L381.10,54.49 L381.23,54.55 L381.37,54.55 L381.50,54.34 L381.64,54.30 L381.77,54.42 L381.91,54.38 L382.04,54.33 L382.18,54.62 L382.31,54.87 L382.45,54.59 L382.58,54.16 L382.72,54.18 L382.86,54.47 L382.99,54.62 L383.13,54.76 L383.26,54.95 L383.40,54.85 L383.53,54.45 L383.67,54.29 L383.80,54.49 L383.94,54.48 L384.07,54.18 L384.21,54.14 L384.34,54.46 L384.48,54.66 L384.61,54.66 L384.75,54.72 L384.89,54.67 L385.02,54.31 L385.16,54.10 L385.29,54.45 L385.43,54.89 L385.56,54.86 L385.70,54.64 L385.83,54.62 L385.97,54.56 L386.10,54.33 L386.24,54.26 L386.37,54.41 L386.51,54.35 L386.64,54.16 L386.78,54.36 L386.92,54.85 L387.05,54.94 L387.19,54.61 L387.32,54.41 L387.46,54.41 L387.59,54.35 L387.73,54.43 L387.86,54.78 L388.00,54.95 L388.13,54.63 L388.27,54.31 L388.40,54.41 L388.54,54.50 L388.67,54.29 L388.81,54.15 L388.95,54.32 L389.08,54.47 L389.22,54.54 L389.35,54.79 L389.49,55.03 L389.62,54.76 L389.76,54.25 L389.89,54.19 L390.03,54.51 L390.16,54.65 L390.30,54.61 L390.43,54.67 L390.57,54.66 L390.70,54.38 L390.84,54.24 L390.98,54.43 L391.11,54.48 L391.25,54.20 L391.38,54.16 L391.52,54.57 L391.65,54.91 L391.79,54.87 L391.92,54.77 L392.06,54.68 L392.19,54.37 L392.33,54.13 L392.46,54.37 L392.60,54.76 L392.73,54.71 L392.87,54.41 L393.01,54.41 L393.14,54.53 L393.28,54.41 L393.41,54.28 L393.55,54.38 L393.68,54.43 L393.82,54.34 L393.95,54.54 L394.09,55.01 L394.22,55.10 L394.36,54.65 L394.49,54.30 L394.63,54.31 L394.76,54.33 L394.90,54.33 L395.04,54.55 L395.17,54.73 L395.31,54.52 L395.44,54.28 L395.58,54.44 L395.71,54.64 L395.85,54.44 L395.98,54.20 L396.12,54.36 L396.25,54.64 L396.39,54.75 L396.52,54.87 L396.66,54.98 L396.79,54.70 L396.93,54.16 L397.07,54.05 L397.20,54.39 L397.34,54.56 L397.47,54.44 L397.61,54.46 L397.74,54.59 L397.88,54.52 L398.01,54.41 L398.15,54.55 L398.28,54.61 L398.42,54.35 L398.55,54.25 L398.69,54.65 L398.82,55.03 L398.96,54.91 L399.10,54.61 L399.23,54.46 L399.37,54.25 L399.50,54.05 L399.64,54.23 L399.77,54.62 L399.91,54.64 L400.04,54.39 L400.18,54.44 L400.31,54.71 L400.45,54.68 L400.58,54.44 L400.72,54.41 L400.85,54.48 L400.99,54.45 L401.13,54.57 L401.26,54.95 L401.40,55.00 L401.53,54.78 L401.67,54.56 L401.80,54.59 L401.94,54.88 L402.07,55.40 L402.21,56.12 L402.34,57.00 L402.48,58.00 L402.61,59.11 L402.75,60.27 L402.88,61.46 L403.02,62.64 L403.16,63.79 L403.29,64.86 L403.43,65.82 L403.56,66.64 L403.70,67.28 L403.83,67.72 L403.97,67.97 L404.10,68.04 L404.24,67.96 L404.37,67.73 L404.51,67.38 L404.64,66.92 L404.78,66.37 L404.91,65.75 L405.05,65.07 L405.19,64.35 L405.32,63.61 L405.46,62.86 L405.59,62.12 L405.73,61.41 L405.86,60.75 L406.00,60.14 L406.13,59.62 L406.27,59.19 L406.40,58.88 L406.54,58.69 L406.67,58.61 L406.81,58.62 L406.94,58.70 L407.08,58.82 L407.22,58.98 L407.35,59.14 L407.49,59.29 L407.62,59.41 L407.76,59.47 L407.89,59.47 L408.03,59.38 L408.16,59.19 L408.30,58.88 L408.43,58.44 L408.57,57.86 L408.70,57.10 L408.84,56.18 L408.97,55.10 L409.11,53.89 L409.25,52.57 L409.38,51.18 L409.52,49.74 L409.65,48.26 L409.79,46.79 L409.92,45.34 L410.06,43.94 L410.19,42.62 L410.33,41.40 L410.46,40.30 L410.60,39.35 L410.73,38.55 L410.87,37.87 L411.00,37.32 L411.14,36.89 L411.28,36.55 L411.41,36.32 L411.55,36.16 L411.68,36.08 L411.82,36.07 L411.95,36.11 L412.09,36.19 L412.22,36.31 L412.36,36.46 L412.49,36.63 L412.63,36.80 L412.76,36.97 L412.90,37.13 L413.03,37.29 L413.17,37.43 L413.31,37.55 L413.44,37.66 L413.58,37.74 L413.71,37.79 L413.85,37.82 L413.98,37.81 L414.12,37.76 L414.25,37.67 L414.39,37.55 L414.52,37.41 L414.66,37.25 L414.79,37.07 L414.93,36.90 L415.06,36.73 L415.20,36.57 L415.34,36.43 L415.47,36.33 L415.61,36.25 L415.74,36.22 L415.88,36.24 L416.01,36.31 L416.15,36.42 L416.28,36.56 L416.42,36.74 L416.55,36.94 L416.69,37.17 L416.82,37.42 L416.96,37.67 L417.09,37.94 L417.23,38.21 L417.37,38.48 L417.50,38.74 L417.64,38.99 L417.77,39.22 L417.91,39.44 L418.04,39.63 L418.18,39.80 L418.31,39.96 L418.45,40.12 L418.58,40.27 L418.72,40.43 L418.85,40.60 L418.99,40.78 L419.12,40.99 L419.26,41.23 L419.40,41.51 L419.53,41.82 L419.67,42.19 L419.80,42.61 L419.94,43.09 L420.07,43.62 L420.21,44.20 L420.34,44.83 L420.48,45.50 L420.61,46.21 L420.75,46.95 L420.88,47.72 L421.02,48.51 L421.15,49.31 L421.29,50.14 L421.43,50.97 L421.56,51.80 L421.70,52.64 L421.83,53.46 L421.97,54.28 L422.10,55.09 L422.24,55.87 L422.37,56.64 L422.51,57.39 L422.64,58.12 L422.78,58.83 L422.91,59.52 L423.05,60.20 L423.18,60.85 L423.32,61.49 L423.46,62.11 L423.59,62.71 L423.73,63.29 L423.86,63.86 L424.00,64.41 L424.13,64.94 L424.27,65.45 L424.40,65.95 L424.54,66.43 L424.67,66.89 L424.81,67.33 L424.94,67.76 L425.08,68.17 L425.21,68.57 L425.35,68.94 L425.49,69.31 L425.62,69.65 L425.76,69.98 L425.89,70.29 L426.03,70.59 L426.16,70.87 L426.30,71.14 L426.43,71.39 L426.57,71.62 L426.70,71.84 L426.84,72.05 L426.97,72.24 L427.11,72.41 L427.24,72.57 L427.38,72.72 L427.52,72.85 L427.65,72.96 L427.79,73.06 L427.92,73.15 L428.06,73.22 L428.19,73.28 L428.33,73.33 L428.46,73.36 L428.60,73.38 L428.73,73.38 L428.87,73.37 L429.00,73.34 L429.14,73.30 L429.27,73.25 L429.41,73.17 L429.55,73.08 L429.68,72.98 L429.82,72.85 L429.95,72.70 L430.09,72.54 L430.22,72.35 L430.36,72.15 L430.49,71.92 L430.63,71.67 L430.76,71.40 L430.90,71.10 L431.03,70.78 L431.17,70.45 L431.30,70.11 L431.44,69.75 L431.58,69.37 L431.71,68.98 L431.85,68.57 L431.98,68.16 L432.12,67.72 L432.25,67.28 L432.39,66.82 L432.52,66.36 L432.66,65.88 L432.79,65.39 L432.93,64.88 L433.06,64.37 L433.20,63.85 L433.33,63.32 L433.47,62.78 L433.61,62.24 L433.74,61.69 L433.88,61.13 L434.01,60.56 L434.15,59.99 L434.28,59.41 L434.42,58.83 L434.55,58.24 L434.69,57.66 L434.82,57.06 L434.96,56.47 L435.09,55.87 L435.23,55.28 L435.36,54.68 L435.50,54.08 L435.64,53.49 L435.77,52.89 L435.91,52.30 L436.04,51.71 L436.18,51.12 L436.31,50.54 L436.45,49.96 L436.58,49.38 L436.72,48.81 L436.85,48.25 L436.99,47.69 L437.12,47.14 L437.26,46.60 L437.39,46.06 L437.53,45.54 L437.67,45.02 L437.80,44.51 L437.94,44.02 L438.07,43.53 L438.21,43.06 L438.34,42.59 L438.48,42.14 L438.61,41.70 L438.75,41.28 L438.88,40.86 L439.02,40.46 L439.15,40.08 L439.29,39.71 L439.42,39.35 L439.56,39.01 L439.70,38.69 L439.83,38.38 L439.97,38.09 L440.10,37.81 L440.24,37.55 L440.37,37.31 L440.51,37.08 L440.64,36.88 L440.78,36.69 L440.91,36.51 L441.05,36.36 L441.18,36.22 L441.32,36.11 L441.45,36.01 L441.59,35.93 L441.73,35.87 L441.86,35.82 L442.00,35.80 L442.13,35.79 L442.27,35.81 L442.40,35.84 L442.54,35.89 L442.67,35.96 L442.81,36.05 L442.94,36.15 L443.08,36.28 L443.21,36.42 L443.35,36.58 L443.48,36.76 L443.62,36.96 L443.76,37.17 L443.89,37.40 L444.03,37.65 L444.16,37.92 L444.30,38.20 L444.43,38.50 L444.57,38.82 L444.70,39.15 L444.84,39.49 L444.97,39.85 L445.11,40.23 L445.24,40.62 L445.38,41.03 L445.51,41.44 L445.65,41.88 L445.79,42.32 L445.92,42.78 L446.06,43.24 L446.19,43.72 L446.33,44.21 L446.46,44.72 L446.60,45.23 L446.73,45.75 L446.87,46.28 L447.00,46.82 L447.14,47.36 L447.27,47.91 L447.41,48.47 L447.54,49.04 L447.68,49.61 L447.82,50.19 L447.95,50.77 L448.09,51.36 L448.22,51.94 L448.36,52.54 L448.49,53.13 L448.63,53.73 L448.76,54.32 L448.90,54.92 L449.03,55.52 L449.17,56.11 L449.30,56.71 L449.44,57.30 L449.57,57.89 L449.71,58.48 L449.85,59.06 L449.98,59.64 L450.12,60.22 L450.25,60.79 L450.39,61.35 L450.52,61.91 L450.66,62.46 L450.79,63.00 L450.93,63.54 L451.06,64.06 L451.20,64.58 L451.33,65.09 L451.47,65.58 L451.60,66.07 L451.74,66.54 L451.88,67.01 L452.01,67.46 L452.15,67.90 L452.28,68.32 L452.42,68.74 L452.55,69.14 L452.69,69.52 L452.82,69.89 L452.96,70.25 L453.09,70.59 L453.23,70.91 L453.36,71.22 L453.50,71.51 L453.63,71.79 L453.77,72.05 L453.91,72.29 L454.04,72.52 L454.18,72.72 L454.31,72.91 L454.45,73.09 L454.58,73.24 L454.72,73.38 L454.85,73.49 L454.99,73.59 L455.12,73.67 L455.26,73.73 L455.39,73.78 L455.53,73.80 L455.66,73.81 L455.80,73.79 L455.94,73.76 L456.07,73.71 L456.21,73.64 L456.34,73.55 L456.48,73.45 L456.61,73.32 L456.75,73.18 L456.88,73.02 L457.02,72.84 L457.15,72.64 L457.29,72.43 L457.42,72.20 L457.56,71.95 L457.69,71.68 L457.83,71.40 L457.97,71.10 L458.10,70.78 L458.24,70.45 L458.37,70.11 L458.51,69.75 L458.64,69.37 L458.78,68.98 L458.91,68.57 L459.05,68.16 L459.18,67.72 L459.32,67.28 L459.45,66.82 L459.59,66.36 L459.72,65.88 L459.86,65.39 L460.00,64.88 L460.13,64.37 L460.27,63.85 L460.40,63.32 L460.54,62.78 L460.67,62.24 L460.81,61.69 L460.94,61.13 L461.08,60.56 L461.21,59.99 L461.35,59.41 L461.48,58.83 L461.62,58.24 L461.75,57.66 L461.89,57.06 L462.03,56.47 L462.16,55.87 L462.30,55.28 L462.43,54.68 L462.57,54.08 L462.70,53.49 L462.84,52.89 L462.97,52.30 L463.11,51.71 L463.24,51.12 L463.38,50.54 L463.51,49.96 L463.65,49.38 L463.78,48.81 L463.92,48.25 L464.06,47.69 L464.19,47.14 L464.33,46.60 L464.46,46.06 L464.60,45.54 L464.73,45.02 L464.87,44.51 L465.00,44.02 L465.14,43.53 L465.27,43.06 L465.41,42.59 L465.54,42.14 L465.68,41.70 L465.81,41.28 L465.95,40.86 L466.09,40.46 L466.22,40.08 L466.36,39.71 L466.49,39.35 L466.63,39.01 L466.76,38.69 L466.90,38.38 L467.03,38.09 L467.17,37.81 L467.30,37.55 L467.44,37.31 L467.57,37.08 L467.71,36.88 L467.84,36.69 L467.98,36.51 L468.12,36.36 L468.25,36.22 L468.39,36.11 L468.52,36.01 L468.66,35.93 L468.79,35.87 L468.93,35.82 L469.06,35.80 L469.20,35.79 L469.33,35.81 L469.47,35.84 L469.60,35.89 L469.74,35.96 L469.87,36.05 L470.01,36.15 L470.15,36.28 L470.28,36.42 L470.42,36.58 L470.55,36.76 L470.69,36.96 L470.82,37.17 L470.96,37.40 L471.09,37.65 L471.23,37.92 L471.36,38.20 L471.50,38.50 L471.63,38.82 L471.77,39.15 L471.90,39.49 L472.04,39.85 L472.18,40.23 L472.31,40.62 L472.45,41.03 L472.58,41.44 L472.72,41.88 L472.85,42.32 L472.99,42.78 L473.12,43.24 L473.26,43.72 L473.39,44.21 L473.53,44.72 L473.66,45.23 L473.80,45.75 L473.93,46.28 L474.07,46.82 L474.21,47.36 L474.34,47.91 L474.48,48.47 L474.61,49.04 L474.75,49.61 L474.88,50.19 L475.02,50.77 L475.15,51.36 L475.29,51.94 L475.42,52.54 L475.56,53.13 L475.69,53.73 L475.83,54.32 L475.96,54.92 L476.10,55.52 L476.24,56.11 L476.37,56.71 L476.51,57.30 L476.64,57.89 L476.78,58.48 L476.91,59.06 L477.05,59.64 L477.18,60.22 L477.32,60.79 L477.45,61.35 L477.59,61.91 L477.72,62.46 L477.86,63.00 L477.99,63.54 L478.13,64.06 L478.27,64.58 L478.40,65.09 L478.54,65.58 L478.67,66.07 L478.81,66.54 L478.94,67.01 L479.08,67.46 L479.21,67.90 L479.35,68.32 L479.48,68.74 L479.62,69.14 L479.75,69.52 L479.89,69.89 L480.02,70.25 L480.16,70.59 L480.30,70.91 L480.43,71.22 L480.57,71.51 L480.70,71.79 L480.84,72.05 L480.97,72.29 L481.11,72.52 L481.24,72.72 L481.38,72.91 L481.51,73.09 L481.65,73.24 L481.78,73.38 L481.92,73.49 L482.05,73.59 L482.19,73.67 L482.33,73.73 L482.46,73.78 L482.60,73.80 L482.73,73.81 L482.87,73.79 L483.00,73.76 L483.14,73.71 L483.27,73.64 L483.41,73.55 L483.54,73.45 L483.68,73.32 L483.81,73.18 L483.95,73.02 L484.08,72.84 L484.22,72.64 L484.36,72.43 L484.49,72.20 L484.63,71.95 L484.76,71.68 L484.90,71.40 L485.03,71.10 L485.17,70.78 L485.30,70.45 L485.44,70.11 L485.57,69.75 L485.71,69.37 L485.84,68.98 L485.98,68.57 L486.11,68.16 L486.25,67.72 L486.39,67.28 L486.52,66.82 L486.66,66.36 L486.79,65.88 L486.93,65.39 L487.06,64.88 L487.20,64.37 L487.33,63.85 L487.47,63.32 L487.60,62.78 L487.74,62.24 L487.87,61.69 L488.01,61.13 L488.14,60.56 L488.28,59.99 L488.42,59.41 L488.55,58.83 L488.69,58.24 L488.82,57.66 L488.96,57.06 L489.09,56.47 L489.23,55.87 L489.36,55.28 L489.50,54.68 L489.63,54.08 L489.77,53.49 L489.90,52.89 L490.04,52.30 L490.17,51.71 L490.31,51.12 L490.45,50.54 L490.58,49.96 L490.72,49.38 L490.85,48.81 L490.99,48.25 L491.12,47.69 L491.26,47.14 L491.39,46.60 L491.53,46.06 L491.66,45.54 L491.80,45.02 L491.93,44.51 L492.07,44.02 L492.20,43.53 L492.34,43.06 L492.48,42.59 L492.61,42.14 L492.75,41.70 L492.88,41.28 L493.02,40.86 L493.15,40.46 L493.29,40.08 L493.42,39.71 L493.56,39.35 L493.69,39.01 L493.83,38.69 L493.96,38.38 L494.10,38.09 L494.23,37.81 L494.37,37.55 L494.51,37.31 L494.64,37.08 L494.78,36.88 L494.91,36.69 L495.05,36.51 L495.18,36.36 L495.32,36.22 L495.45,36.11 L495.59,36.01 L495.72,35.93 L495.86,35.87 L495.99,35.82 L496.13,35.80 L496.26,35.79 L496.40,35.81 L496.54,35.84 L496.67,35.89 L496.81,35.96 L496.94,36.05 L497.08,36.15 L497.21,36.28 L497.35,36.42 L497.48,36.58 L497.62,36.76 L497.75,36.96 L497.89,37.17 L498.02,37.40 L498.16,37.65 L498.29,37.92 L498.43,38.20 L498.57,38.50 L498.70,38.82 L498.84,39.15 L498.97,39.49 L499.11,39.85 L499.24,40.23 L499.38,40.62 L499.51,41.03 L499.65,41.44 L499.78,41.88 L499.92,42.32 L500.05,42.78 L500.19,43.24 L500.32,43.72 L500.46,44.21 L500.60,44.72 L500.73,45.23 L500.87,45.75 L501.00,46.28 L501.14,46.82 L501.27,47.36 L501.41,47.91 L501.54,48.47 L501.68,49.04 L501.81,49.61 L501.95,50.19 L502.08,50.77 L502.22,51.36 L502.35,51.94 L502.49,52.54 L502.63,53.13 L502.76,53.73 L502.90,54.32 L503.03,54.92 L503.17,55.52 L503.30,56.11 L503.44,56.71 L503.57,57.30 L503.71,57.89 L503.84,58.48 L503.98,59.06 L504.11,59.64 L504.25,60.22 L504.38,60.79 L504.52,61.35 L504.66,61.91 L504.79,62.46 L504.93,63.00 L505.06,63.54 L505.20,64.06 L505.33,64.58 L505.47,65.09 L505.60,65.58 L505.74,66.07 L505.87,66.54 L506.01,67.01 L506.14,67.46 L506.28,67.90 L506.41,68.32 L506.55,68.74 L506.69,69.14 L506.82,69.52 L506.96,69.89 L507.09,70.25 L507.23,70.59 L507.36,70.91 L507.50,71.22 L507.63,71.51 L507.77,71.79 L507.90,72.05 L508.04,72.29 L508.17,72.52 L508.31,72.72 L508.44,72.91 L508.58,73.09 L508.72,73.24 L508.85,73.38 L508.99,73.49 L509.12,73.59 L509.26,73.67 L509.39,73.73 L509.53,73.78 L509.66,73.80 L509.80,73.81 L509.93,73.79 L510.07,73.76 L510.20,73.71 L510.34,73.64 L510.47,73.55 L510.61,73.45 L510.75,73.32 L510.88,73.18 L511.02,73.02 L511.15,72.84 L511.29,72.64 L511.42,72.43 L511.56,72.20 L511.69,71.95 L511.83,71.68 L511.96,71.40 L512.10,71.10 L512.23,70.78 L512.37,70.45 L512.50,70.11 L512.64,69.75 L512.78,69.37 L512.91,68.98 L513.05,68.57 L513.18,68.16 L513.32,67.72 L513.45,67.28 L513.59,66.82 L513.72,66.36 L513.86,65.88 L513.99,65.39 L514.13,64.88 L514.26,64.37 L514.40,63.85 L514.53,63.32 L514.67,62.78 L514.81,62.24 L514.94,61.69 L515.08,61.13 L515.21,60.56 L515.35,59.99 L515.48,59.41 L515.62,58.83 L515.75,58.24 L515.89,57.66 L516.02,57.06 L516.16,56.47 L516.29,55.87 L516.43,55.28 L516.56,54.68 L516.70,54.08 L516.84,53.49 L516.97,52.89 L517.11,52.30 L517.24,51.71 L517.38,51.12 L517.51,50.54 L517.65,49.96 L517.78,49.38 L517.92,48.81 L518.05,48.25 L518.19,47.69 L518.32,47.14 L518.46,46.60 L518.59,46.06 L518.73,45.54 L518.87,45.02 L519.00,44.51 L519.14,44.02 L519.27,43.53 L519.41,43.06 L519.54,42.59 L519.68,42.14 L519.81,41.70 L519.95,41.28 L520.08,40.86 L520.22,40.46 L520.35,40.08 L520.49,39.71 L520.62,39.35 L520.76,39.01 L520.90,38.69 L521.03,38.38 L521.17,38.09 L521.30,37.81 L521.44,37.55 L521.57,37.31 L521.71,37.08 L521.84,36.88 L521.98,36.69 L522.11,36.51 L522.25,36.36 L522.38,36.22 L522.52,36.11 L522.65,36.01 L522.79,35.93 L522.93,35.87 L523.06,35.82 L523.20,35.80 L523.33,35.79 L523.47,35.81 L523.60,35.84 L523.74,35.89 L523.87,35.96 L524.01,36.05 L524.14,36.15 L524.28,36.28 L524.41,36.42 L524.55,36.58 L524.68,36.76 L524.82,36.96 L524.96,37.17 L525.09,37.40 L525.23,37.65 L525.36,37.92 L525.50,38.20 L525.63,38.50 L525.77,38.82 L525.90,39.15 L526.04,39.49 L526.17,39.85 L526.31,40.23 L526.44,40.62 L526.58,41.03 L526.71,41.44 L526.85,41.88 L526.99,42.32 L527.12,42.78 L527.26,43.24 L527.39,43.72 L527.53,44.21 L527.66,44.72 L527.80,45.23 L527.93,45.75 L528.07,46.28 L528.20,46.82 L528.34,47.36 L528.47,47.91 L528.61,48.47 L528.74,49.04 L528.88,49.61 L529.02,50.19 L529.15,50.77 L529.29,51.36 L529.42,51.94 L529.56,52.54 L529.69,53.13 L529.83,53.73 L529.96,54.32 L530.10,54.92 L530.23,55.52 L530.37,56.11 L530.50,56.71 L530.64,57.30 L530.77,57.89 L530.91,58.48 L531.05,59.06 L531.18,59.64 L531.32,60.22 L531.45,60.79 L531.59,61.35 L531.72,61.91 L531.86,62.46 L531.99,63.00 L532.13,63.54 L532.26,64.06 L532.40,64.58 L532.53,65.09 L532.67,65.58 L532.80,66.07 L532.94,66.54 L533.08,67.01 L533.21,67.46 L533.35,67.90 L533.48,68.32 L533.62,68.74 L533.75,69.14 L533.89,69.52 L534.02,69.89 L534.16,70.25 L534.29,70.59 L534.43,70.91 L534.56,71.22 L534.70,71.51 L534.83,71.79 L534.97,72.05 L535.11,72.29 L535.24,72.52 L535.38,72.72 L535.51,72.91 L535.65,73.09 L535.78,73.24 L535.92,73.38 L536.05,73.49 L536.19,73.59 L536.32,73.67 L536.46,73.73 L536.59,73.78 L536.73,73.80 L536.86,73.81 L537.00,73.79" stroke="#ff3535" stroke-width="1.10" fill="none" stroke-linejoin="round"/>
<path d="M293.40,53.19 L293.74,50.10 L294.08,47.04 L294.41,44.03 L294.75,41.09 L295.09,38.23 L295.43,35.47 L295.77,32.83 L296.11,30.32 L296.44,27.97 L296.78,25.78 L297.12,23.78 L297.46,21.96 L297.80,20.34 L298.14,18.94 L298.47,17.76 L298.81,16.81 L299.15,16.09 L299.49,15.61 L299.83,15.37 L300.17,15.38 L300.50,15.62 L300.84,16.11 L301.18,16.84 L301.52,17.80 L301.86,18.99 L302.20,20.41 L302.53,22.03 L302.87,23.85 L303.21,25.87 L303.55,28.06 L303.89,30.42 L304.23,32.93 L304.56,35.58 L304.90,38.34 L305.24,41.20 L305.58,44.15 L305.92,47.16 L306.26,50.22 L306.59,53.31 L306.93,56.41 L307.27,59.50 L307.61,62.56 L307.95,65.57 L308.29,68.51 L308.62,71.37 L308.96,74.13 L309.30,76.77 L309.64,79.28 L309.98,81.63 L310.32,83.82 L310.65,85.82 L310.99,87.64 L311.33,89.26 L311.67,90.66 L312.01,91.84 L312.35,92.79 L312.69,93.51 L313.02,93.99 L313.36,94.23 L313.70,94.22 L314.04,93.98 L314.38,93.49 L314.72,92.76 L315.05,91.80 L315.39,90.61 L315.73,89.19 L316.07,87.57 L316.41,85.75 L316.75,83.73 L317.08,81.54 L317.42,79.18 L317.76,76.67 L318.10,74.02 L318.44,71.26 L318.78,68.40 L319.11,65.45 L319.45,62.44 L319.79,59.38 L320.13,56.29 L320.47,53.19 L320.81,50.10 L321.14,47.04 L321.48,44.03 L321.82,41.09 L322.16,38.23 L322.50,35.47 L322.84,32.83 L323.17,30.32 L323.51,27.97 L323.85,25.78 L324.19,23.78 L324.53,21.96 L324.87,20.34 L325.20,18.94 L325.54,17.76 L325.88,16.81 L326.22,16.09 L326.56,15.61 L326.90,15.37 L327.23,15.38 L327.57,15.62 L327.91,16.11 L328.25,16.84 L328.59,17.80 L328.93,18.99 L329.26,20.41 L329.60,22.03 L329.94,23.85 L330.28,25.87 L330.62,28.06 L330.96,30.42 L331.29,32.93 L331.63,35.58 L331.97,38.34 L332.31,41.20 L332.65,44.15 L332.99,47.16 L333.32,50.22 L333.66,53.31 L334.00,56.41 L334.34,59.50 L334.68,62.56 L335.02,65.57 L335.35,68.51 L335.69,71.37 L336.03,74.13 L336.37,76.77 L336.71,79.28 L337.05,81.63 L337.38,83.82 L337.72,85.82 L338.06,87.64 L338.40,89.26 L338.74,90.66 L339.08,91.84 L339.41,92.79 L339.75,93.51 L340.09,93.99 L340.43,94.23 L340.77,94.22 L341.11,93.98 L341.44,93.49 L341.78,92.76 L342.12,91.80 L342.46,90.61 L342.80,89.19 L343.14,87.57 L343.47,85.75 L343.81,83.73 L344.15,81.54 L344.49,79.18 L344.83,76.67 L345.17,74.02 L345.50,71.26 L345.84,68.40 L346.18,65.45 L346.52,62.44 L346.86,59.38 L347.20,56.29 L347.53,53.19 L347.87,50.10 L348.21,47.04 L348.55,44.03 L348.89,41.09 L349.23,38.23 L349.56,35.47 L349.90,32.83 L350.24,30.32 L350.58,27.97 L350.92,25.78 L351.26,23.78 L351.59,21.96 L351.93,20.34 L352.27,18.94 L352.61,17.76 L352.95,16.81 L353.29,16.09 L353.62,15.61 L353.96,15.37 L354.30,15.38 L354.64,15.62 L354.98,16.11 L355.32,16.84 L355.65,17.80 L355.99,18.99 L356.33,20.41 L356.67,22.03 L357.01,23.85 L357.35,25.87 L357.68,28.06 L358.02,30.42 L358.36,32.93 L358.70,35.58 L359.04,38.34 L359.38,41.20 L359.71,44.15 L360.05,47.16 L360.39,50.22 L360.73,53.31 L361.07,56.41 L361.41,59.50 L361.74,62.56 L362.08,65.57 L362.42,68.51 L362.76,71.37 L363.10,74.13 L363.44,76.77 L363.77,79.28 L364.11,81.63 L364.45,83.82 L364.79,85.82 L365.13,87.64 L365.47,89.26 L365.80,90.66 L366.14,91.84 L366.48,92.79 L366.82,93.51 L367.16,93.99 L367.50,94.23 L367.83,94.22 L368.17,93.98 L368.51,93.49 L368.85,92.76 L369.19,91.80 L369.53,90.61 L369.86,89.19 L370.20,87.57 L370.54,85.75 L370.88,83.73 L371.22,81.54 L371.56,79.18 L371.89,76.67 L372.23,74.02 L372.57,71.26 L372.91,68.40 L373.25,65.45 L373.59,62.44 L373.92,59.38 L374.26,56.29 L374.60,53.19 L374.94,50.10 L375.28,47.04 L375.62,44.03 L375.95,41.09 L376.29,38.23 L376.63,35.47 L376.97,32.83 L377.31,30.32 L377.65,27.97 L377.98,25.78 L378.32,23.78 L378.66,21.96 L379.00,20.34 L379.34,18.94 L379.68,17.76 L380.01,16.81 L380.35,16.09 L380.69,15.61 L381.03,15.37 L381.37,15.38 L381.71,15.62 L382.04,16.11 L382.38,16.84 L382.72,17.80 L383.06,18.99 L383.40,20.41 L383.74,22.03 L384.07,23.85 L384.41,25.87 L384.75,28.06 L385.09,30.42 L385.43,32.93 L385.77,35.58 L386.10,38.34 L386.44,41.20 L386.78,44.15 L387.12,47.16 L387.46,50.22 L387.80,53.31 L388.13,56.41 L388.47,59.50 L388.81,62.56 L389.15,65.57 L389.49,68.51 L389.83,71.37 L390.16,74.13 L390.50,76.77 L390.84,79.28 L391.18,81.63 L391.52,83.82 L391.86,85.82 L392.19,87.64 L392.53,89.26 L392.87,90.66 L393.21,91.84 L393.55,92.79 L393.89,93.51 L394.22,93.99 L394.56,94.23 L394.90,94.22 L395.24,93.98 L395.58,93.49 L395.92,92.76 L396.25,91.80 L396.59,90.61 L396.93,89.19 L397.27,87.57 L397.61,85.75 L397.95,83.73 L398.28,81.54 L398.62,79.18 L398.96,76.67 L399.30,74.02 L399.64,71.26 L399.98,68.40 L400.31,65.45 L400.65,62.44 L400.99,59.38 L401.33,56.29 L401.67,53.19 L402.01,50.10 L402.34,47.04 L402.68,44.03 L403.02,41.09 L403.36,38.23 L403.70,35.47 L404.04,32.83 L404.37,30.32 L404.71,27.97 L405.05,25.78 L405.39,23.78 L405.73,21.96 L406.07,20.34 L406.40,18.94 L406.74,17.76 L407.08,16.81 L407.42,16.09 L407.76,15.61 L408.10,15.37 L408.43,15.38 L408.77,15.62 L409.11,16.11 L409.45,16.84 L409.79,17.80 L410.13,18.99 L410.46,20.41 L410.80,22.03 L411.14,23.85 L411.48,25.87 L411.82,28.06 L412.16,30.42 L412.49,32.93 L412.83,35.58 L413.17,38.34 L413.51,41.20 L413.85,44.15 L414.19,47.16 L414.52,50.22 L414.86,53.31 L415.20,56.41 L415.54,59.50 L415.88,62.56 L416.22,65.57 L416.55,68.51 L416.89,71.37 L417.23,74.13 L417.57,76.77 L417.91,79.28 L418.25,81.63 L418.58,83.82 L418.92,85.82 L419.26,87.64 L419.60,89.26 L419.94,90.66 L420.28,91.84 L420.61,92.79 L420.95,93.51 L421.29,93.99 L421.63,94.23 L421.97,94.22 L422.31,93.98 L422.64,93.49 L422.98,92.76 L423.32,91.80 L423.66,90.61 L424.00,89.19 L424.34,87.57 L424.67,85.75 L425.01,83.73 L425.35,81.54 L425.69,79.18 L426.03,76.67 L426.37,74.02 L426.70,71.26 L427.04,68.40 L427.38,65.45 L427.72,62.44 L428.06,59.38 L428.40,56.29 L428.73,53.19 L429.07,50.10 L429.41,47.04 L429.75,44.03 L430.09,41.09 L430.43,38.23 L430.76,35.47 L431.10,32.83 L431.44,30.32 L431.78,27.97 L432.12,25.78 L432.46,23.78 L432.79,21.96 L433.13,20.34 L433.47,18.94 L433.81,17.76 L434.15,16.81 L434.49,16.09 L434.82,15.61 L435.16,15.37 L435.50,15.38 L435.84,15.62 L436.18,16.11 L436.52,16.84 L436.85,17.80 L437.19,18.99 L437.53,20.41 L437.87,22.03 L438.21,23.85 L438.55,25.87 L438.88,28.06 L439.22,30.42 L439.56,32.93 L439.90,35.58 L440.24,38.34 L440.58,41.20 L440.91,44.15 L441.25,47.16 L441.59,50.22 L441.93,53.31 L442.27,56.41 L442.61,59.50 L442.94,62.56 L443.28,65.57 L443.62,68.51 L443.96,71.37 L444.30,74.13 L444.64,76.77 L444.97,79.28 L445.31,81.63 L445.65,83.82 L445.99,85.82 L446.33,87.64 L446.67,89.26 L447.00,90.66 L447.34,91.84 L447.68,92.79 L448.02,93.51 L448.36,93.99 L448.70,94.23 L449.03,94.22 L449.37,93.98 L449.71,93.49 L450.05,92.76 L450.39,91.80 L450.73,90.61 L451.06,89.19 L451.40,87.57 L451.74,85.75 L452.08,83.73 L452.42,81.54 L452.76,79.18 L453.09,76.67 L453.43,74.02 L453.77,71.26 L454.11,68.40 L454.45,65.45 L454.79,62.44 L455.12,59.38 L455.46,56.29 L455.80,53.19 L456.14,50.10 L456.48,47.04 L456.82,44.03 L457.15,41.09 L457.49,38.23 L457.83,35.47 L458.17,32.83 L458.51,30.32 L458.85,27.97 L459.18,25.78 L459.52,23.78 L459.86,21.96 L460.20,20.34 L460.54,18.94 L460.88,17.76 L461.21,16.81 L461.55,16.09 L461.89,15.61 L462.23,15.37 L462.57,15.38 L462.91,15.62 L463.24,16.11 L463.58,16.84 L463.92,17.80 L464.26,18.99 L464.60,20.41 L464.94,22.03 L465.27,23.85 L465.61,25.87 L465.95,28.06 L466.29,30.42 L466.63,32.93 L466.97,35.58 L467.30,38.34 L467.64,41.20 L467.98,44.15 L468.32,47.16 L468.66,50.22 L469.00,53.31 L469.33,56.41 L469.67,59.50 L470.01,62.56 L470.35,65.57 L470.69,68.51 L471.03,71.37 L471.36,74.13 L471.70,76.77 L472.04,79.28 L472.38,81.63 L472.72,83.82 L473.06,85.82 L473.39,87.64 L473.73,89.26 L474.07,90.66 L474.41,91.84 L474.75,92.79 L475.09,93.51 L475.42,93.99 L475.76,94.23 L476.10,94.22 L476.44,93.98 L476.78,93.49 L477.12,92.76 L477.45,91.80 L477.79,90.61 L478.13,89.19 L478.47,87.57 L478.81,85.75 L479.15,83.73 L479.48,81.54 L479.82,79.18 L480.16,76.67 L480.50,74.02 L480.84,71.26 L481.18,68.40 L481.51,65.45 L481.85,62.44 L482.19,59.38 L482.53,56.29 L482.87,53.19 L483.21,50.10 L483.54,47.04 L483.88,44.03 L484.22,41.09 L484.56,38.23 L484.90,35.47 L485.24,32.83 L485.57,30.32 L485.91,27.97 L486.25,25.78 L486.59,23.78 L486.93,21.96 L487.27,20.34 L487.60,18.94 L487.94,17.76 L488.28,16.81 L488.62,16.09 L488.96,15.61 L489.30,15.37 L489.63,15.38 L489.97,15.62 L490.31,16.11 L490.65,16.84 L490.99,17.80 L491.33,18.99 L491.66,20.41 L492.00,22.03 L492.34,23.85 L492.68,25.87 L493.02,28.06 L493.36,30.42 L493.69,32.93 L494.03,35.58 L494.37,38.34 L494.71,41.20 L495.05,44.15 L495.39,47.16 L495.72,50.22 L496.06,53.31 L496.40,56.41 L496.74,59.50 L497.08,62.56 L497.42,65.57 L497.75,68.51 L498.09,71.37 L498.43,74.13 L498.77,76.77 L499.11,79.28 L499.45,81.63 L499.78,83.82 L500.12,85.82 L500.46,87.64 L500.80,89.26 L501.14,90.66 L501.48,91.84 L501.81,92.79 L502.15,93.51 L502.49,93.99 L502.83,94.23 L503.17,94.22 L503.51,93.98 L503.84,93.49 L504.18,92.76 L504.52,91.80 L504.86,90.61 L505.20,89.19 L505.54,87.57 L505.87,85.75 L506.21,83.73 L506.55,81.54 L506.89,79.18 L507.23,76.67 L507.57,74.02 L507.90,71.26 L508.24,68.40 L508.58,65.45 L508.92,62.44 L509.26,59.38 L509.60,56.29 L509.93,53.19 L510.27,50.10 L510.61,47.04 L510.95,44.03 L511.29,41.09 L511.63,38.23 L511.96,35.47 L512.30,32.83 L512.64,30.32 L512.98,27.97 L513.32,25.78 L513.66,23.78 L513.99,21.96 L514.33,20.34 L514.67,18.94 L515.01,17.76 L515.35,16.81 L515.69,16.09 L516.02,15.61 L516.36,15.37 L516.70,15.38 L517.04,15.62 L517.38,16.11 L517.72,16.84 L518.05,17.80 L518.39,18.99 L518.73,20.41 L519.07,22.03 L519.41,23.85 L519.75,25.87 L520.08,28.06 L520.42,30.42 L520.76,32.93 L521.10,35.58 L521.44,38.34 L521.78,41.20 L522.11,44.15 L522.45,47.16 L522.79,50.22 L523.13,53.31 L523.47,56.41 L523.81,59.50 L524.14,62.56 L524.48,65.57 L524.82,68.51 L525.16,71.37 L525.50,74.13 L525.84,76.77 L526.17,79.28 L526.51,81.63 L526.85,83.82 L527.19,85.82 L527.53,87.64 L527.87,89.26 L528.20,90.66 L528.54,91.84 L528.88,92.79 L529.22,93.51 L529.56,93.99 L529.90,94.23 L530.23,94.22 L530.57,93.98 L530.91,93.49 L531.25,92.76 L531.59,91.80 L531.93,90.61 L532.26,89.19 L532.60,87.57 L532.94,85.75 L533.28,83.73 L533.62,81.54 L533.96,79.18 L534.29,76.67 L534.63,74.02 L534.97,71.26 L535.31,68.40 L535.65,65.45 L535.99,62.44 L536.32,59.38 L536.66,56.29 L537.00,53.19" stroke="#5555ff" stroke-width="1.15" fill="none" stroke-linejoin="round"/>
<rect x="293.40" y="6.80" width="243.60" height="96.00" fill="none" stroke="#8c8c8c" stroke-width="1.30"/>
<text x="294.50" y="110.80" font-size="5.60" font-family="'Liberation Sans', Arial, sans-serif" text-anchor="middle" fill="#333">0.02</text>
<text x="321.57" y="110.80" font-size="5.60" font-family="'Liberation Sans', Arial, sans-serif" text-anchor="middle" fill="#333">0.04</text>
<text x="348.63" y="110.80" font-size="5.60" font-family="'Liberation Sans', Arial, sans-serif" text-anchor="middle" fill="#333">0.06</text>
<text x="375.70" y="110.80" font-size="5.60" font-family="'Liberation Sans', Arial, sans-serif" text-anchor="middle" fill="#333">0.08</text>
<text x="402.77" y="110.80" font-size="5.60" font-family="'Liberation Sans', Arial, sans-serif" text-anchor="middle" fill="#333">0.1</text>
<text x="429.83" y="110.80" font-size="5.60" font-family="'Liberation Sans', Arial, sans-serif" text-anchor="middle" fill="#333">0.12</text>
<text x="456.90" y="110.80" font-size="5.60" font-family="'Liberation Sans', Arial, sans-serif" text-anchor="middle" fill="#333">0.14</text>
<text x="483.97" y="110.80" font-size="5.60" font-family="'Liberation Sans', Arial, sans-serif" text-anchor="middle" fill="#333">0.16</text>
<text x="511.03" y="110.80" font-size="5.60" font-family="'Liberation Sans', Arial, sans-serif" text-anchor="middle" fill="#333">0.18</text>
<text x="538.10" y="110.80" font-size="5.60" font-family="'Liberation Sans', Arial, sans-serif" text-anchor="middle" fill="#333">0.2</text>
<text x="292.60" y="57.40" font-size="5.20" font-family="'Liberation Sans', Arial, sans-serif" text-anchor="end" fill="#222">0</text>
<path d="M51.24,132.50V229.50M78.29,132.50V229.50M105.33,132.50V229.50M132.38,132.50V229.50M159.42,132.50V229.50M186.47,132.50V229.50M213.51,132.50V229.50M240.56,132.50V229.50" stroke="#c8c8c8" stroke-width="1" stroke-dasharray="8.6 3.75" stroke-dashoffset="1.25" fill="none"/>
<path d="M24.20,156.75H267.60M24.20,181.00H267.60M24.20,205.25H267.60" stroke="#c8c8c8" stroke-width="1" stroke-dasharray="8.6 3.75" stroke-dashoffset="10.7" fill="none"/>
<path d="M51.24,132.50v2.4M51.24,229.50v-2.4M78.29,132.50v2.4M78.29,229.50v-2.4M105.33,132.50v2.4M105.33,229.50v-2.4M132.38,132.50v2.4M132.38,229.50v-2.4M159.42,132.50v2.4M159.42,229.50v-2.4M186.47,132.50v2.4M186.47,229.50v-2.4M213.51,132.50v2.4M213.51,229.50v-2.4M240.56,132.50v2.4M240.56,229.50v-2.4M24.20,156.75h2.4M267.60,156.75h-2.4M24.20,181.00h2.4M267.60,181.00h-2.4M24.20,205.25h2.4M267.60,205.25h-2.4" stroke="#555" stroke-width="0.8" fill="none"/>
<path d="M24.20,179.24 L24.54,181.13 L24.88,183.01 L25.21,184.88 L25.55,186.73 L25.89,188.54 L26.23,190.30 L26.57,192.01 L26.90,193.65 L27.24,195.21 L27.58,196.69 L27.92,198.06 L28.26,199.34 L28.59,200.50 L28.93,201.54 L29.27,202.45 L29.61,203.23 L29.95,203.87 L30.29,204.37 L30.62,204.73 L30.96,204.94 L31.30,205.01 L31.64,204.92 L31.98,204.69 L32.31,204.31 L32.65,203.79 L32.99,203.13 L33.33,202.33 L33.67,201.40 L34.00,200.35 L34.34,199.17 L34.68,197.89 L35.02,196.50 L35.36,195.01 L35.69,193.44 L36.03,191.79 L36.37,190.07 L36.71,188.30 L37.05,186.48 L37.38,184.63 L37.72,182.76 L38.06,180.87 L38.40,178.99 L38.74,177.12 L39.07,175.27 L39.41,173.46 L39.75,171.70 L40.09,169.99 L40.43,168.35 L40.76,166.79 L41.10,165.31 L41.44,163.94 L41.78,162.66 L42.12,161.50 L42.46,160.46 L42.79,159.55 L43.13,158.77 L43.47,158.13 L43.81,157.63 L44.15,157.27 L44.48,157.06 L44.82,156.99 L45.16,157.08 L45.50,157.31 L45.84,157.69 L46.17,158.21 L46.51,158.87 L46.85,159.67 L47.19,160.60 L47.53,161.65 L47.86,162.83 L48.20,164.11 L48.54,165.50 L48.88,166.99 L49.22,168.56 L49.55,170.21 L49.89,171.93 L50.23,173.70 L50.57,175.52 L50.91,177.37 L51.24,179.24 L51.58,181.13 L51.92,183.01 L52.26,184.88 L52.60,186.73 L52.93,188.54 L53.27,190.30 L53.61,192.01 L53.95,193.65 L54.29,195.21 L54.63,196.69 L54.96,198.06 L55.30,199.34 L55.64,200.50 L55.98,201.54 L56.32,202.45 L56.65,203.23 L56.99,203.87 L57.33,204.37 L57.67,204.73 L58.01,204.94 L58.34,205.01 L58.68,204.92 L59.02,204.69 L59.36,204.31 L59.70,203.79 L60.03,203.13 L60.37,202.33 L60.71,201.40 L61.05,200.35 L61.39,199.17 L61.72,197.89 L62.06,196.50 L62.40,195.01 L62.74,193.44 L63.08,191.79 L63.41,190.07 L63.75,188.30 L64.09,186.48 L64.43,184.63 L64.77,182.76 L65.10,180.87 L65.44,178.99 L65.78,177.12 L66.12,175.27 L66.46,173.46 L66.80,171.70 L67.13,169.99 L67.47,168.35 L67.81,166.79 L68.15,165.31 L68.49,163.94 L68.82,162.66 L69.16,161.50 L69.50,160.46 L69.84,159.55 L70.18,158.77 L70.51,158.13 L70.85,157.63 L71.19,157.27 L71.53,157.06 L71.87,156.99 L72.20,157.08 L72.54,157.31 L72.88,157.69 L73.22,158.21 L73.56,158.87 L73.89,159.67 L74.23,160.60 L74.57,161.65 L74.91,162.83 L75.25,164.11 L75.58,165.50 L75.92,166.99 L76.26,168.56 L76.60,170.21 L76.94,171.93 L77.27,173.70 L77.61,175.52 L77.95,177.37 L78.29,179.24 L78.63,181.13 L78.97,183.01 L79.30,184.88 L79.64,186.73 L79.98,188.54 L80.32,190.30 L80.66,192.01 L80.99,193.65 L81.33,195.21 L81.67,196.69 L82.01,198.06 L82.35,199.34 L82.68,200.50 L83.02,201.54 L83.36,202.45 L83.70,203.23 L84.04,203.87 L84.37,204.37 L84.71,204.73 L85.05,204.94 L85.39,205.01 L85.73,204.92 L86.06,204.69 L86.40,204.31 L86.74,203.79 L87.08,203.13 L87.42,202.33 L87.75,201.40 L88.09,200.35 L88.43,199.17 L88.77,197.89 L89.11,196.50 L89.44,195.01 L89.78,193.44 L90.12,191.79 L90.46,190.07 L90.80,188.30 L91.14,186.48 L91.47,184.63 L91.81,182.76 L92.15,180.87 L92.49,178.99 L92.83,177.12 L93.16,175.27 L93.50,173.46 L93.84,171.70 L94.18,169.99 L94.52,168.35 L94.85,166.79 L95.19,165.31 L95.53,163.94 L95.87,162.66 L96.21,161.50 L96.54,160.46 L96.88,159.55 L97.22,158.77 L97.56,158.13 L97.90,157.63 L98.23,157.27 L98.57,157.06 L98.91,156.99 L99.25,157.08 L99.59,157.31 L99.92,157.69 L100.26,158.21 L100.60,158.87 L100.94,159.67 L101.28,160.60 L101.61,161.65 L101.95,162.83 L102.29,164.11 L102.63,165.50 L102.97,166.99 L103.31,168.56 L103.64,170.21 L103.98,171.93 L104.32,173.70 L104.66,175.52 L105.00,177.37 L105.33,179.24 L105.67,181.13 L106.01,183.01 L106.35,184.88 L106.69,186.73 L107.02,188.54 L107.36,190.30 L107.70,192.01 L108.04,193.65 L108.38,195.21 L108.71,196.69 L109.05,198.06 L109.39,199.34 L109.73,200.50 L110.07,201.54 L110.40,202.45 L110.74,203.23 L111.08,203.87 L111.42,204.37 L111.76,204.73 L112.09,204.94 L112.43,205.01 L112.77,204.92 L113.11,204.69 L113.45,204.31 L113.78,203.79 L114.12,203.13 L114.46,202.33 L114.80,201.40 L115.14,200.35 L115.48,199.17 L115.81,197.89 L116.15,196.50 L116.49,195.01 L116.83,193.44 L117.17,191.79 L117.50,190.07 L117.84,188.30 L118.18,186.48 L118.52,184.63 L118.86,182.76 L119.19,180.87 L119.53,178.99 L119.87,177.12 L120.21,175.27 L120.55,173.46 L120.88,171.70 L121.22,169.99 L121.56,168.35 L121.90,166.79 L122.24,165.31 L122.57,163.94 L122.91,162.66 L123.25,161.50 L123.59,160.46 L123.93,159.55 L124.26,158.77 L124.60,158.13 L124.94,157.63 L125.28,157.27 L125.62,157.06 L125.95,156.99 L126.29,157.08 L126.63,157.31 L126.97,157.69 L127.31,158.21 L127.65,158.87 L127.98,159.67 L128.32,160.60 L128.66,161.89 L129.00,163.51 L129.34,165.40 L129.67,167.50 L130.01,169.76 L130.35,172.08 L130.69,174.33 L131.03,176.37 L131.36,178.07 L131.70,179.30 L132.04,179.95 L132.38,180.03 L132.72,179.66 L133.05,178.93 L133.39,177.96 L133.73,176.85 L134.07,175.70 L134.41,174.63 L134.74,173.72 L135.08,173.10 L135.42,172.80 L135.76,172.80 L136.10,173.08 L136.43,173.63 L136.77,174.42 L137.11,175.44 L137.45,176.66 L137.79,178.07 L138.12,179.64 L138.46,181.37 L138.80,183.22 L139.14,185.18 L139.48,187.23 L139.82,189.35 L140.15,191.48 L140.49,193.55 L140.83,195.49 L141.17,197.22 L141.51,198.67 L141.84,199.75 L142.18,200.41 L142.52,200.55 L142.86,200.12 L143.20,199.15 L143.53,197.82 L143.87,196.29 L144.21,194.74 L144.55,193.35 L144.89,192.28 L145.22,191.70 L145.56,191.58 L145.90,191.80 L146.24,192.22 L146.58,192.68 L146.91,193.07 L147.25,193.23 L147.59,193.04 L147.93,192.52 L148.27,191.70 L148.60,190.65 L148.94,189.40 L149.28,188.02 L149.62,186.55 L149.96,185.04 L150.29,183.52 L150.63,182.00 L150.97,180.50 L151.31,179.02 L151.65,177.59 L151.99,176.22 L152.32,174.92 L152.66,173.70 L153.00,172.58 L153.34,171.57 L153.68,170.65 L154.01,169.84 L154.35,169.11 L154.69,168.48 L155.03,167.93 L155.37,167.47 L155.70,167.09 L156.04,166.78 L156.38,166.55 L156.72,166.39 L157.06,166.29 L157.39,166.26 L157.73,166.29 L158.07,166.38 L158.41,166.54 L158.75,166.79 L159.08,167.14 L159.42,167.61 L159.76,168.22 L160.10,168.90 L160.44,169.66 L160.77,170.48 L161.11,171.36 L161.45,172.30 L161.79,173.29 L162.13,174.33 L162.46,175.40 L162.80,176.51 L163.14,177.64 L163.48,178.78 L163.82,179.94 L164.16,181.10 L164.49,182.26 L164.83,183.41 L165.17,184.54 L165.51,185.64 L165.85,186.72 L166.18,187.75 L166.52,188.74 L166.86,189.68 L167.20,190.56 L167.54,191.38 L167.87,192.14 L168.21,192.82 L168.55,193.43 L168.89,193.95 L169.23,194.40 L169.56,194.75 L169.90,195.02 L170.24,195.21 L170.58,195.30 L170.92,195.30 L171.25,195.20 L171.59,195.02 L171.93,194.75 L172.27,194.39 L172.61,193.95 L172.94,193.42 L173.28,192.81 L173.62,192.13 L173.96,191.37 L174.30,190.55 L174.63,189.67 L174.97,188.73 L175.31,187.74 L175.65,186.70 L175.99,185.63 L176.33,184.52 L176.66,183.39 L177.00,182.25 L177.34,181.09 L177.68,179.93 L178.02,178.77 L178.35,177.62 L178.69,176.49 L179.03,175.39 L179.37,174.31 L179.71,173.28 L180.04,172.29 L180.38,171.35 L180.72,170.47 L181.06,169.65 L181.40,168.89 L181.73,168.21 L182.07,167.60 L182.41,167.08 L182.75,166.63 L183.09,166.28 L183.42,166.01 L183.76,165.82 L184.10,165.73 L184.44,165.73 L184.78,165.83 L185.11,166.01 L185.45,166.28 L185.79,166.64 L186.13,167.08 L186.47,167.61 L186.80,168.22 L187.14,168.90 L187.48,169.66 L187.82,170.48 L188.16,171.36 L188.50,172.30 L188.83,173.29 L189.17,174.33 L189.51,175.40 L189.85,176.51 L190.19,177.64 L190.52,178.78 L190.86,179.94 L191.20,181.10 L191.54,182.26 L191.88,183.41 L192.21,184.54 L192.55,185.64 L192.89,186.72 L193.23,187.75 L193.57,188.74 L193.90,189.68 L194.24,190.56 L194.58,191.38 L194.92,192.14 L195.26,192.82 L195.59,193.43 L195.93,193.95 L196.27,194.40 L196.61,194.75 L196.95,195.02 L197.28,195.21 L197.62,195.30 L197.96,195.30 L198.30,195.20 L198.64,195.02 L198.97,194.75 L199.31,194.39 L199.65,193.95 L199.99,193.42 L200.33,192.81 L200.67,192.13 L201.00,191.37 L201.34,190.55 L201.68,189.67 L202.02,188.73 L202.36,187.74 L202.69,186.70 L203.03,185.63 L203.37,184.52 L203.71,183.39 L204.05,182.25 L204.38,181.09 L204.72,179.93 L205.06,178.77 L205.40,177.62 L205.74,176.49 L206.07,175.39 L206.41,174.31 L206.75,173.28 L207.09,172.29 L207.43,171.35 L207.76,170.47 L208.10,169.65 L208.44,168.89 L208.78,168.21 L209.12,167.60 L209.45,167.08 L209.79,166.63 L210.13,166.28 L210.47,166.01 L210.81,165.82 L211.14,165.73 L211.48,165.73 L211.82,165.83 L212.16,166.01 L212.50,166.28 L212.84,166.64 L213.17,167.08 L213.51,167.61 L213.85,168.22 L214.19,168.90 L214.53,169.66 L214.86,170.48 L215.20,171.36 L215.54,172.30 L215.88,173.29 L216.22,174.33 L216.55,175.40 L216.89,176.51 L217.23,177.64 L217.57,178.78 L217.91,179.94 L218.24,181.10 L218.58,182.26 L218.92,183.41 L219.26,184.54 L219.60,185.64 L219.93,186.72 L220.27,187.75 L220.61,188.74 L220.95,189.68 L221.29,190.56 L221.62,191.38 L221.96,192.14 L222.30,192.82 L222.64,193.43 L222.98,193.95 L223.31,194.40 L223.65,194.75 L223.99,195.02 L224.33,195.21 L224.67,195.30 L225.01,195.30 L225.34,195.20 L225.68,195.02 L226.02,194.75 L226.36,194.39 L226.70,193.95 L227.03,193.42 L227.37,192.81 L227.71,192.13 L228.05,191.37 L228.39,190.55 L228.72,189.67 L229.06,188.73 L229.40,187.74 L229.74,186.70 L230.08,185.63 L230.41,184.52 L230.75,183.39 L231.09,182.25 L231.43,181.09 L231.77,179.93 L232.10,178.77 L232.44,177.62 L232.78,176.49 L233.12,175.39 L233.46,174.31 L233.79,173.28 L234.13,172.29 L234.47,171.35 L234.81,170.47 L235.15,169.65 L235.48,168.89 L235.82,168.21 L236.16,167.60 L236.50,167.08 L236.84,166.63 L237.18,166.28 L237.51,166.01 L237.85,165.82 L238.19,165.73 L238.53,165.73 L238.87,165.83 L239.20,166.01 L239.54,166.28 L239.88,166.64 L240.22,167.08 L240.56,167.61 L240.89,168.22 L241.23,168.90 L241.57,169.66 L241.91,170.48 L242.25,171.36 L242.58,172.30 L242.92,173.29 L243.26,174.33 L243.60,175.40 L243.94,176.51 L244.27,177.64 L244.61,178.78 L244.95,179.94 L245.29,181.10 L245.63,182.26 L245.96,183.41 L246.30,184.54 L246.64,185.64 L246.98,186.72 L247.32,187.75 L247.65,188.74 L247.99,189.68 L248.33,190.56 L248.67,191.38 L249.01,192.14 L249.35,192.82 L249.68,193.43 L250.02,193.95 L250.36,194.40 L250.70,194.75 L251.04,195.02 L251.37,195.21 L251.71,195.30 L252.05,195.30 L252.39,195.20 L252.73,195.02 L253.06,194.75 L253.40,194.39 L253.74,193.95 L254.08,193.42 L254.42,192.81 L254.75,192.13 L255.09,191.37 L255.43,190.55 L255.77,189.67 L256.11,188.73 L256.44,187.74 L256.78,186.70 L257.12,185.63 L257.46,184.52 L257.80,183.39 L258.13,182.25 L258.47,181.09 L258.81,179.93 L259.15,178.77 L259.49,177.62 L259.82,176.49 L260.16,175.39 L260.50,174.31 L260.84,173.28 L261.18,172.29 L261.52,171.35 L261.85,170.47 L262.19,169.65 L262.53,168.89 L262.87,168.21 L263.21,167.60 L263.54,167.08 L263.88,166.63 L264.22,166.28 L264.56,166.01 L264.90,165.82 L265.23,165.73 L265.57,165.73 L265.91,165.83 L266.25,166.01 L266.59,166.28 L266.92,166.64 L267.26,167.08 L267.60,167.61" stroke="#8a8a8a" stroke-width="1.00" fill="none" stroke-linejoin="round"/>
<path d="M24.20,202.61 L24.54,201.73 L24.88,200.71 L25.21,199.58 L25.55,198.33 L25.89,196.97 L26.23,195.51 L26.57,193.97 L26.90,192.34 L27.24,190.65 L27.58,188.90 L27.92,187.09 L28.26,185.25 L28.59,183.38 L28.93,181.50 L29.27,179.62 L29.61,177.74 L29.95,175.89 L30.29,174.06 L30.62,172.28 L30.96,170.55 L31.30,168.89 L31.64,167.30 L31.98,165.79 L32.31,164.38 L32.65,163.08 L32.99,161.88 L33.33,160.80 L33.67,159.84 L34.00,159.02 L34.34,158.33 L34.68,157.78 L35.02,157.37 L35.36,157.11 L35.69,157.00 L36.03,157.03 L36.37,157.21 L36.71,157.54 L37.05,158.02 L37.38,158.63 L37.72,159.39 L38.06,160.27 L38.40,161.29 L38.74,162.42 L39.07,163.67 L39.41,165.03 L39.75,166.49 L40.09,168.03 L40.43,169.66 L40.76,171.35 L41.10,173.10 L41.44,174.91 L41.78,176.75 L42.12,178.62 L42.46,180.50 L42.79,182.38 L43.13,184.26 L43.47,186.11 L43.81,187.94 L44.15,189.72 L44.48,191.45 L44.82,193.11 L45.16,194.70 L45.50,196.21 L45.84,197.62 L46.17,198.92 L46.51,200.12 L46.85,201.20 L47.19,202.16 L47.53,202.98 L47.86,203.67 L48.20,204.22 L48.54,204.63 L48.88,204.89 L49.22,205.00 L49.55,204.97 L49.89,204.79 L50.23,204.46 L50.57,203.98 L50.91,203.37 L51.24,202.61 L51.58,201.73 L51.92,200.71 L52.26,199.58 L52.60,198.33 L52.93,196.97 L53.27,195.51 L53.61,193.97 L53.95,192.34 L54.29,190.65 L54.63,188.90 L54.96,187.09 L55.30,185.25 L55.64,183.38 L55.98,181.50 L56.32,179.62 L56.65,177.74 L56.99,175.89 L57.33,174.06 L57.67,172.28 L58.01,170.55 L58.34,168.89 L58.68,167.30 L59.02,165.79 L59.36,164.38 L59.70,163.08 L60.03,161.88 L60.37,160.80 L60.71,159.84 L61.05,159.02 L61.39,158.33 L61.72,157.78 L62.06,157.37 L62.40,157.11 L62.74,157.00 L63.08,157.03 L63.41,157.21 L63.75,157.54 L64.09,158.02 L64.43,158.63 L64.77,159.39 L65.10,160.27 L65.44,161.29 L65.78,162.42 L66.12,163.67 L66.46,165.03 L66.80,166.49 L67.13,168.03 L67.47,169.66 L67.81,171.35 L68.15,173.10 L68.49,174.91 L68.82,176.75 L69.16,178.62 L69.50,180.50 L69.84,182.38 L70.18,184.26 L70.51,186.11 L70.85,187.94 L71.19,189.72 L71.53,191.45 L71.87,193.11 L72.20,194.70 L72.54,196.21 L72.88,197.62 L73.22,198.92 L73.56,200.12 L73.89,201.20 L74.23,202.16 L74.57,202.98 L74.91,203.67 L75.25,204.22 L75.58,204.63 L75.92,204.89 L76.26,205.00 L76.60,204.97 L76.94,204.79 L77.27,204.46 L77.61,203.98 L77.95,203.37 L78.29,202.61 L78.63,201.73 L78.97,200.71 L79.30,199.58 L79.64,198.33 L79.98,196.97 L80.32,195.51 L80.66,193.97 L80.99,192.34 L81.33,190.65 L81.67,188.90 L82.01,187.09 L82.35,185.25 L82.68,183.38 L83.02,181.50 L83.36,179.62 L83.70,177.74 L84.04,175.89 L84.37,174.06 L84.71,172.28 L85.05,170.55 L85.39,168.89 L85.73,167.30 L86.06,165.79 L86.40,164.38 L86.74,163.08 L87.08,161.88 L87.42,160.80 L87.75,159.84 L88.09,159.02 L88.43,158.33 L88.77,157.78 L89.11,157.37 L89.44,157.11 L89.78,157.00 L90.12,157.03 L90.46,157.21 L90.80,157.54 L91.14,158.02 L91.47,158.63 L91.81,159.39 L92.15,160.27 L92.49,161.29 L92.83,162.42 L93.16,163.67 L93.50,165.03 L93.84,166.49 L94.18,168.03 L94.52,169.66 L94.85,171.35 L95.19,173.10 L95.53,174.91 L95.87,176.75 L96.21,178.62 L96.54,180.50 L96.88,182.38 L97.22,184.26 L97.56,186.11 L97.90,187.94 L98.23,189.72 L98.57,191.45 L98.91,193.11 L99.25,194.70 L99.59,196.21 L99.92,197.62 L100.26,198.92 L100.60,200.12 L100.94,201.20 L101.28,202.16 L101.61,202.98 L101.95,203.67 L102.29,204.22 L102.63,204.63 L102.97,204.89 L103.31,205.00 L103.64,204.97 L103.98,204.79 L104.32,204.46 L104.66,203.98 L105.00,203.37 L105.33,202.61 L105.67,201.73 L106.01,200.71 L106.35,199.58 L106.69,198.33 L107.02,196.97 L107.36,195.51 L107.70,193.97 L108.04,192.34 L108.38,190.65 L108.71,188.90 L109.05,187.09 L109.39,185.25 L109.73,183.38 L110.07,181.50 L110.40,179.62 L110.74,177.74 L111.08,175.89 L111.42,174.06 L111.76,172.28 L112.09,170.55 L112.43,168.89 L112.77,167.30 L113.11,165.79 L113.45,164.38 L113.78,163.08 L114.12,161.88 L114.46,160.80 L114.80,159.84 L115.14,159.02 L115.48,158.33 L115.81,157.78 L116.15,157.37 L116.49,157.11 L116.83,157.00 L117.17,157.03 L117.50,157.21 L117.84,157.54 L118.18,158.02 L118.52,158.63 L118.86,159.39 L119.19,160.27 L119.53,161.29 L119.87,162.42 L120.21,163.67 L120.55,165.03 L120.88,166.49 L121.22,168.03 L121.56,169.66 L121.90,171.35 L122.24,173.10 L122.57,174.91 L122.91,176.75 L123.25,178.62 L123.59,180.50 L123.93,182.38 L124.26,184.26 L124.60,186.11 L124.94,187.94 L125.28,189.72 L125.62,191.45 L125.95,193.11 L126.29,194.70 L126.63,196.21 L126.97,197.62 L127.31,198.92 L127.65,200.12 L127.98,201.20 L128.32,202.16 L128.66,202.98 L129.00,203.67 L129.34,204.22 L129.67,204.63 L130.01,204.89 L130.35,204.95 L130.69,204.75 L131.03,204.22 L131.36,203.34 L131.70,202.20 L132.04,200.93 L132.38,199.66 L132.72,198.51 L133.05,197.61 L133.39,197.09 L133.73,197.07 L134.07,197.67 L134.41,198.80 L134.74,200.16 L135.08,201.43 L135.42,202.30 L135.76,202.45 L136.10,201.69 L136.43,200.17 L136.77,198.07 L137.11,195.59 L137.45,192.92 L137.79,190.25 L138.12,187.77 L138.46,185.67 L138.80,184.12 L139.14,183.12 L139.48,182.46 L139.82,181.97 L140.15,181.47 L140.49,180.77 L140.83,179.84 L141.17,178.73 L141.51,177.52 L141.84,176.26 L142.18,175.04 L142.52,173.91 L142.86,172.95 L143.20,172.17 L143.53,171.55 L143.87,171.06 L144.21,170.68 L144.55,170.37 L144.89,170.11 L145.22,169.79 L145.56,169.28 L145.90,168.48 L146.24,167.25 L146.58,165.60 L146.91,163.91 L147.25,162.61 L147.59,162.13 L147.93,162.51 L148.27,163.53 L148.60,164.91 L148.94,166.43 L149.28,167.81 L149.62,168.85 L149.96,169.55 L150.29,170.00 L150.63,170.25 L150.97,170.39 L151.31,170.48 L151.65,170.55 L151.99,170.65 L152.32,170.82 L152.66,171.10 L153.00,171.53 L153.34,172.16 L153.68,172.98 L154.01,173.99 L154.35,175.14 L154.69,176.40 L155.03,177.76 L155.37,179.16 L155.70,180.61 L156.04,182.06 L156.38,183.51 L156.72,184.92 L157.06,186.29 L157.39,187.59 L157.73,188.79 L158.07,189.90 L158.41,190.91 L158.75,191.82 L159.08,192.63 L159.42,193.34 L159.76,193.95 L160.10,194.47 L160.44,194.88 L160.77,195.19 L161.11,195.40 L161.45,195.51 L161.79,195.52 L162.13,195.43 L162.46,195.24 L162.80,194.96 L163.14,194.59 L163.48,194.14 L163.82,193.62 L164.16,193.02 L164.49,192.36 L164.83,191.63 L165.17,190.83 L165.51,189.97 L165.85,189.05 L166.18,188.07 L166.52,187.05 L166.86,185.99 L167.20,184.89 L167.54,183.77 L167.87,182.63 L168.21,181.47 L168.55,180.31 L168.89,179.15 L169.23,178.00 L169.56,176.87 L169.90,175.75 L170.24,174.67 L170.58,173.62 L170.92,172.61 L171.25,171.66 L171.59,170.76 L171.93,169.91 L172.27,169.14 L172.61,168.43 L172.94,167.80 L173.28,167.24 L173.62,166.77 L173.96,166.39 L174.30,166.09 L174.63,165.87 L174.97,165.75 L175.31,165.72 L175.65,165.79 L175.99,165.94 L176.33,166.18 L176.66,166.51 L177.00,166.93 L177.34,167.43 L177.68,168.01 L178.02,168.67 L178.35,169.40 L178.69,170.20 L179.03,171.06 L179.37,171.98 L179.71,172.96 L180.04,173.98 L180.38,175.04 L180.72,176.14 L181.06,177.26 L181.40,178.40 L181.73,179.56 L182.07,180.72 L182.41,181.88 L182.75,183.03 L183.09,184.16 L183.42,185.28 L183.76,186.36 L184.10,187.41 L184.44,188.42 L184.78,189.37 L185.11,190.27 L185.45,191.12 L185.79,191.89 L186.13,192.60 L186.47,193.23 L186.80,193.79 L187.14,194.26 L187.48,194.64 L187.82,194.94 L188.16,195.16 L188.50,195.28 L188.83,195.31 L189.17,195.24 L189.51,195.09 L189.85,194.85 L190.19,194.52 L190.52,194.10 L190.86,193.60 L191.20,193.02 L191.54,192.36 L191.88,191.63 L192.21,190.83 L192.55,189.97 L192.89,189.05 L193.23,188.07 L193.57,187.05 L193.90,185.99 L194.24,184.89 L194.58,183.77 L194.92,182.63 L195.26,181.47 L195.59,180.31 L195.93,179.15 L196.27,178.00 L196.61,176.87 L196.95,175.75 L197.28,174.67 L197.62,173.62 L197.96,172.61 L198.30,171.66 L198.64,170.76 L198.97,169.91 L199.31,169.14 L199.65,168.43 L199.99,167.80 L200.33,167.24 L200.67,166.77 L201.00,166.39 L201.34,166.09 L201.68,165.87 L202.02,165.75 L202.36,165.72 L202.69,165.79 L203.03,165.94 L203.37,166.18 L203.71,166.51 L204.05,166.93 L204.38,167.43 L204.72,168.01 L205.06,168.67 L205.40,169.40 L205.74,170.20 L206.07,171.06 L206.41,171.98 L206.75,172.96 L207.09,173.98 L207.43,175.04 L207.76,176.14 L208.10,177.26 L208.44,178.40 L208.78,179.56 L209.12,180.72 L209.45,181.88 L209.79,183.03 L210.13,184.16 L210.47,185.28 L210.81,186.36 L211.14,187.41 L211.48,188.42 L211.82,189.37 L212.16,190.27 L212.50,191.12 L212.84,191.89 L213.17,192.60 L213.51,193.23 L213.85,193.79 L214.19,194.26 L214.53,194.64 L214.86,194.94 L215.20,195.16 L215.54,195.28 L215.88,195.31 L216.22,195.24 L216.55,195.09 L216.89,194.85 L217.23,194.52 L217.57,194.10 L217.91,193.60 L218.24,193.02 L218.58,192.36 L218.92,191.63 L219.26,190.83 L219.60,189.97 L219.93,189.05 L220.27,188.07 L220.61,187.05 L220.95,185.99 L221.29,184.89 L221.62,183.77 L221.96,182.63 L222.30,181.47 L222.64,180.31 L222.98,179.15 L223.31,178.00 L223.65,176.87 L223.99,175.75 L224.33,174.67 L224.67,173.62 L225.01,172.61 L225.34,171.66 L225.68,170.76 L226.02,169.91 L226.36,169.14 L226.70,168.43 L227.03,167.80 L227.37,167.24 L227.71,166.77 L228.05,166.39 L228.39,166.09 L228.72,165.87 L229.06,165.75 L229.40,165.72 L229.74,165.79 L230.08,165.94 L230.41,166.18 L230.75,166.51 L231.09,166.93 L231.43,167.43 L231.77,168.01 L232.10,168.67 L232.44,169.40 L232.78,170.20 L233.12,171.06 L233.46,171.98 L233.79,172.96 L234.13,173.98 L234.47,175.04 L234.81,176.14 L235.15,177.26 L235.48,178.40 L235.82,179.56 L236.16,180.72 L236.50,181.88 L236.84,183.03 L237.18,184.16 L237.51,185.28 L237.85,186.36 L238.19,187.41 L238.53,188.42 L238.87,189.37 L239.20,190.27 L239.54,191.12 L239.88,191.89 L240.22,192.60 L240.56,193.23 L240.89,193.79 L241.23,194.26 L241.57,194.64 L241.91,194.94 L242.25,195.16 L242.58,195.28 L242.92,195.31 L243.26,195.24 L243.60,195.09 L243.94,194.85 L244.27,194.52 L244.61,194.10 L244.95,193.60 L245.29,193.02 L245.63,192.36 L245.96,191.63 L246.30,190.83 L246.64,189.97 L246.98,189.05 L247.32,188.07 L247.65,187.05 L247.99,185.99 L248.33,184.89 L248.67,183.77 L249.01,182.63 L249.35,181.47 L249.68,180.31 L250.02,179.15 L250.36,178.00 L250.70,176.87 L251.04,175.75 L251.37,174.67 L251.71,173.62 L252.05,172.61 L252.39,171.66 L252.73,170.76 L253.06,169.91 L253.40,169.14 L253.74,168.43 L254.08,167.80 L254.42,167.24 L254.75,166.77 L255.09,166.39 L255.43,166.09 L255.77,165.87 L256.11,165.75 L256.44,165.72 L256.78,165.79 L257.12,165.94 L257.46,166.18 L257.80,166.51 L258.13,166.93 L258.47,167.43 L258.81,168.01 L259.15,168.67 L259.49,169.40 L259.82,170.20 L260.16,171.06 L260.50,171.98 L260.84,172.96 L261.18,173.98 L261.52,175.04 L261.85,176.14 L262.19,177.26 L262.53,178.40 L262.87,179.56 L263.21,180.72 L263.54,181.88 L263.88,183.03 L264.22,184.16 L264.56,185.28 L264.90,186.36 L265.23,187.41 L265.57,188.42 L265.91,189.37 L266.25,190.27 L266.59,191.12 L266.92,191.89 L267.26,192.60 L267.60,193.23" stroke="#ff3535" stroke-width="1.05" fill="none" stroke-linejoin="round"/>
<path d="M24.20,161.14 L24.54,160.15 L24.88,159.28 L25.21,158.54 L25.55,157.95 L25.89,157.49 L26.23,157.18 L26.57,157.02 L26.90,157.00 L27.24,157.14 L27.58,157.42 L27.92,157.84 L28.26,158.41 L28.59,159.12 L28.93,159.96 L29.27,160.93 L29.61,162.03 L29.95,163.24 L30.29,164.57 L30.62,165.99 L30.96,167.51 L31.30,169.11 L31.64,170.78 L31.98,172.51 L32.31,174.30 L32.65,176.13 L32.99,177.99 L33.33,179.87 L33.67,181.75 L34.00,183.63 L34.34,185.50 L34.68,187.33 L35.02,189.13 L35.36,190.88 L35.69,192.57 L36.03,194.18 L36.37,195.71 L36.71,197.16 L37.05,198.50 L37.38,199.74 L37.72,200.86 L38.06,201.85 L38.40,202.72 L38.74,203.46 L39.07,204.05 L39.41,204.51 L39.75,204.82 L40.09,204.98 L40.43,205.00 L40.76,204.86 L41.10,204.58 L41.44,204.16 L41.78,203.59 L42.12,202.88 L42.46,202.04 L42.79,201.07 L43.13,199.97 L43.47,198.76 L43.81,197.43 L44.15,196.01 L44.48,194.49 L44.82,192.89 L45.16,191.22 L45.50,189.49 L45.84,187.70 L46.17,185.87 L46.51,184.01 L46.85,182.13 L47.19,180.25 L47.53,178.37 L47.86,176.50 L48.20,174.67 L48.54,172.87 L48.88,171.12 L49.22,169.43 L49.55,167.82 L49.89,166.29 L50.23,164.84 L50.57,163.50 L50.91,162.26 L51.24,161.14 L51.58,160.15 L51.92,159.28 L52.26,158.54 L52.60,157.95 L52.93,157.49 L53.27,157.18 L53.61,157.02 L53.95,157.00 L54.29,157.14 L54.63,157.42 L54.96,157.84 L55.30,158.41 L55.64,159.12 L55.98,159.96 L56.32,160.93 L56.65,162.03 L56.99,163.24 L57.33,164.57 L57.67,165.99 L58.01,167.51 L58.34,169.11 L58.68,170.78 L59.02,172.51 L59.36,174.30 L59.70,176.13 L60.03,177.99 L60.37,179.87 L60.71,181.75 L61.05,183.63 L61.39,185.50 L61.72,187.33 L62.06,189.13 L62.40,190.88 L62.74,192.57 L63.08,194.18 L63.41,195.71 L63.75,197.16 L64.09,198.50 L64.43,199.74 L64.77,200.86 L65.10,201.85 L65.44,202.72 L65.78,203.46 L66.12,204.05 L66.46,204.51 L66.80,204.82 L67.13,204.98 L67.47,205.00 L67.81,204.86 L68.15,204.58 L68.49,204.16 L68.82,203.59 L69.16,202.88 L69.50,202.04 L69.84,201.07 L70.18,199.97 L70.51,198.76 L70.85,197.43 L71.19,196.01 L71.53,194.49 L71.87,192.89 L72.20,191.22 L72.54,189.49 L72.88,187.70 L73.22,185.87 L73.56,184.01 L73.89,182.13 L74.23,180.25 L74.57,178.37 L74.91,176.50 L75.25,174.67 L75.58,172.87 L75.92,171.12 L76.26,169.43 L76.60,167.82 L76.94,166.29 L77.27,164.84 L77.61,163.50 L77.95,162.26 L78.29,161.14 L78.63,160.15 L78.97,159.28 L79.30,158.54 L79.64,157.95 L79.98,157.49 L80.32,157.18 L80.66,157.02 L80.99,157.00 L81.33,157.14 L81.67,157.42 L82.01,157.84 L82.35,158.41 L82.68,159.12 L83.02,159.96 L83.36,160.93 L83.70,162.03 L84.04,163.24 L84.37,164.57 L84.71,165.99 L85.05,167.51 L85.39,169.11 L85.73,170.78 L86.06,172.51 L86.40,174.30 L86.74,176.13 L87.08,177.99 L87.42,179.87 L87.75,181.75 L88.09,183.63 L88.43,185.50 L88.77,187.33 L89.11,189.13 L89.44,190.88 L89.78,192.57 L90.12,194.18 L90.46,195.71 L90.80,197.16 L91.14,198.50 L91.47,199.74 L91.81,200.86 L92.15,201.85 L92.49,202.72 L92.83,203.46 L93.16,204.05 L93.50,204.51 L93.84,204.82 L94.18,204.98 L94.52,205.00 L94.85,204.86 L95.19,204.58 L95.53,204.16 L95.87,203.59 L96.21,202.88 L96.54,202.04 L96.88,201.07 L97.22,199.97 L97.56,198.76 L97.90,197.43 L98.23,196.01 L98.57,194.49 L98.91,192.89 L99.25,191.22 L99.59,189.49 L99.92,187.70 L100.26,185.87 L100.60,184.01 L100.94,182.13 L101.28,180.25 L101.61,178.37 L101.95,176.50 L102.29,174.67 L102.63,172.87 L102.97,171.12 L103.31,169.43 L103.64,167.82 L103.98,166.29 L104.32,164.84 L104.66,163.50 L105.00,162.26 L105.33,161.14 L105.67,160.15 L106.01,159.28 L106.35,158.54 L106.69,157.95 L107.02,157.49 L107.36,157.18 L107.70,157.02 L108.04,157.00 L108.38,157.14 L108.71,157.42 L109.05,157.84 L109.39,158.41 L109.73,159.12 L110.07,159.96 L110.40,160.93 L110.74,162.03 L111.08,163.24 L111.42,164.57 L111.76,165.99 L112.09,167.51 L112.43,169.11 L112.77,170.78 L113.11,172.51 L113.45,174.30 L113.78,176.13 L114.12,177.99 L114.46,179.87 L114.80,181.75 L115.14,183.63 L115.48,185.50 L115.81,187.33 L116.15,189.13 L116.49,190.88 L116.83,192.57 L117.17,194.18 L117.50,195.71 L117.84,197.16 L118.18,198.50 L118.52,199.74 L118.86,200.86 L119.19,201.85 L119.53,202.72 L119.87,203.46 L120.21,204.05 L120.55,204.51 L120.88,204.82 L121.22,204.98 L121.56,205.00 L121.90,204.86 L122.24,204.58 L122.57,204.16 L122.91,203.59 L123.25,202.88 L123.59,202.04 L123.93,201.07 L124.26,199.97 L124.60,198.76 L124.94,197.43 L125.28,196.01 L125.62,194.49 L125.95,192.89 L126.29,191.22 L126.63,189.49 L126.97,187.70 L127.31,185.87 L127.65,184.01 L127.98,182.13 L128.32,180.25 L128.66,178.37 L129.00,176.50 L129.34,174.67 L129.67,172.87 L130.01,171.12 L130.35,169.43 L130.69,167.82 L131.03,166.29 L131.36,164.77 L131.70,162.87 L132.04,161.15 L132.38,160.19 L132.72,160.52 L133.05,162.08 L133.39,164.30 L133.73,166.60 L134.07,168.41 L134.41,169.20 L134.74,168.91 L135.08,167.85 L135.42,166.36 L135.76,164.77 L136.10,163.39 L136.43,162.57 L136.77,162.53 L137.11,163.17 L137.45,164.26 L137.79,165.61 L138.12,167.00 L138.46,168.23 L138.80,169.09 L139.14,169.36 L139.48,168.92 L139.82,167.93 L140.15,166.63 L140.49,165.28 L140.83,164.10 L141.17,163.35 L141.51,163.26 L141.84,163.91 L142.18,165.16 L142.52,166.81 L142.86,168.67 L143.20,170.57 L143.53,172.33 L143.87,173.88 L144.21,175.25 L144.55,176.47 L144.89,177.57 L145.22,178.58 L145.56,179.51 L145.90,180.42 L146.24,181.33 L146.58,182.27 L146.91,183.30 L147.25,184.42 L147.59,185.59 L147.93,186.76 L148.27,187.85 L148.60,188.80 L148.94,189.55 L149.28,190.02 L149.62,190.29 L149.96,190.44 L150.29,190.61 L150.63,190.89 L150.97,191.41 L151.31,192.28 L151.65,193.41 L151.99,194.55 L152.32,195.43 L152.66,195.93 L153.00,196.08 L153.34,195.91 L153.68,195.45 L154.01,194.77 L154.35,193.96 L154.69,193.07 L155.03,192.18 L155.37,191.31 L155.70,190.44 L156.04,189.57 L156.38,188.71 L156.72,187.86 L157.06,187.00 L157.39,186.13 L157.73,185.25 L158.07,184.36 L158.41,183.45 L158.75,182.51 L159.08,181.54 L159.42,180.53 L159.76,179.48 L160.10,178.38 L160.44,177.24 L160.77,176.12 L161.11,175.03 L161.45,173.97 L161.79,172.95 L162.13,171.97 L162.46,171.05 L162.80,170.19 L163.14,169.39 L163.48,168.66 L163.82,168.00 L164.16,167.42 L164.49,166.92 L164.83,166.51 L165.17,166.18 L165.51,165.93 L165.85,165.78 L166.18,165.72 L166.52,165.75 L166.86,165.88 L167.20,166.09 L167.54,166.39 L167.87,166.78 L168.21,167.25 L168.55,167.81 L168.89,168.44 L169.23,169.15 L169.56,169.92 L169.90,170.77 L170.24,171.67 L170.58,172.63 L170.92,173.63 L171.25,174.68 L171.59,175.77 L171.93,176.88 L172.27,178.02 L172.61,179.17 L172.94,180.33 L173.28,181.49 L173.62,182.65 L173.96,183.79 L174.30,184.91 L174.63,186.00 L174.97,187.06 L175.31,188.08 L175.65,189.06 L175.99,189.98 L176.33,190.84 L176.66,191.64 L177.00,192.37 L177.34,193.03 L177.68,193.61 L178.02,194.11 L178.35,194.52 L178.69,194.85 L179.03,195.10 L179.37,195.25 L179.71,195.31 L180.04,195.28 L180.38,195.15 L180.72,194.94 L181.06,194.64 L181.40,194.25 L181.73,193.78 L182.07,193.22 L182.41,192.59 L182.75,191.88 L183.09,191.11 L183.42,190.26 L183.76,189.36 L184.10,188.40 L184.44,187.40 L184.78,186.35 L185.11,185.26 L185.45,184.15 L185.79,183.01 L186.13,181.86 L186.47,180.70 L186.80,179.54 L187.14,178.38 L187.48,177.24 L187.82,176.12 L188.16,175.03 L188.50,173.97 L188.83,172.95 L189.17,171.97 L189.51,171.05 L189.85,170.19 L190.19,169.39 L190.52,168.66 L190.86,168.00 L191.20,167.42 L191.54,166.92 L191.88,166.51 L192.21,166.18 L192.55,165.93 L192.89,165.78 L193.23,165.72 L193.57,165.75 L193.90,165.88 L194.24,166.09 L194.58,166.39 L194.92,166.78 L195.26,167.25 L195.59,167.81 L195.93,168.44 L196.27,169.15 L196.61,169.92 L196.95,170.77 L197.28,171.67 L197.62,172.63 L197.96,173.63 L198.30,174.68 L198.64,175.77 L198.97,176.88 L199.31,178.02 L199.65,179.17 L199.99,180.33 L200.33,181.49 L200.67,182.65 L201.00,183.79 L201.34,184.91 L201.68,186.00 L202.02,187.06 L202.36,188.08 L202.69,189.06 L203.03,189.98 L203.37,190.84 L203.71,191.64 L204.05,192.37 L204.38,193.03 L204.72,193.61 L205.06,194.11 L205.40,194.52 L205.74,194.85 L206.07,195.10 L206.41,195.25 L206.75,195.31 L207.09,195.28 L207.43,195.15 L207.76,194.94 L208.10,194.64 L208.44,194.25 L208.78,193.78 L209.12,193.22 L209.45,192.59 L209.79,191.88 L210.13,191.11 L210.47,190.26 L210.81,189.36 L211.14,188.40 L211.48,187.40 L211.82,186.35 L212.16,185.26 L212.50,184.15 L212.84,183.01 L213.17,181.86 L213.51,180.70 L213.85,179.54 L214.19,178.38 L214.53,177.24 L214.86,176.12 L215.20,175.03 L215.54,173.97 L215.88,172.95 L216.22,171.97 L216.55,171.05 L216.89,170.19 L217.23,169.39 L217.57,168.66 L217.91,168.00 L218.24,167.42 L218.58,166.92 L218.92,166.51 L219.26,166.18 L219.60,165.93 L219.93,165.78 L220.27,165.72 L220.61,165.75 L220.95,165.88 L221.29,166.09 L221.62,166.39 L221.96,166.78 L222.30,167.25 L222.64,167.81 L222.98,168.44 L223.31,169.15 L223.65,169.92 L223.99,170.77 L224.33,171.67 L224.67,172.63 L225.01,173.63 L225.34,174.68 L225.68,175.77 L226.02,176.88 L226.36,178.02 L226.70,179.17 L227.03,180.33 L227.37,181.49 L227.71,182.65 L228.05,183.79 L228.39,184.91 L228.72,186.00 L229.06,187.06 L229.40,188.08 L229.74,189.06 L230.08,189.98 L230.41,190.84 L230.75,191.64 L231.09,192.37 L231.43,193.03 L231.77,193.61 L232.10,194.11 L232.44,194.52 L232.78,194.85 L233.12,195.10 L233.46,195.25 L233.79,195.31 L234.13,195.28 L234.47,195.15 L234.81,194.94 L235.15,194.64 L235.48,194.25 L235.82,193.78 L236.16,193.22 L236.50,192.59 L236.84,191.88 L237.18,191.11 L237.51,190.26 L237.85,189.36 L238.19,188.40 L238.53,187.40 L238.87,186.35 L239.20,185.26 L239.54,184.15 L239.88,183.01 L240.22,181.86 L240.56,180.70 L240.89,179.54 L241.23,178.38 L241.57,177.24 L241.91,176.12 L242.25,175.03 L242.58,173.97 L242.92,172.95 L243.26,171.97 L243.60,171.05 L243.94,170.19 L244.27,169.39 L244.61,168.66 L244.95,168.00 L245.29,167.42 L245.63,166.92 L245.96,166.51 L246.30,166.18 L246.64,165.93 L246.98,165.78 L247.32,165.72 L247.65,165.75 L247.99,165.88 L248.33,166.09 L248.67,166.39 L249.01,166.78 L249.35,167.25 L249.68,167.81 L250.02,168.44 L250.36,169.15 L250.70,169.92 L251.04,170.77 L251.37,171.67 L251.71,172.63 L252.05,173.63 L252.39,174.68 L252.73,175.77 L253.06,176.88 L253.40,178.02 L253.74,179.17 L254.08,180.33 L254.42,181.49 L254.75,182.65 L255.09,183.79 L255.43,184.91 L255.77,186.00 L256.11,187.06 L256.44,188.08 L256.78,189.06 L257.12,189.98 L257.46,190.84 L257.80,191.64 L258.13,192.37 L258.47,193.03 L258.81,193.61 L259.15,194.11 L259.49,194.52 L259.82,194.85 L260.16,195.10 L260.50,195.25 L260.84,195.31 L261.18,195.28 L261.52,195.15 L261.85,194.94 L262.19,194.64 L262.53,194.25 L262.87,193.78 L263.21,193.22 L263.54,192.59 L263.88,191.88 L264.22,191.11 L264.56,190.26 L264.90,189.36 L265.23,188.40 L265.57,187.40 L265.91,186.35 L266.25,185.26 L266.59,184.15 L266.92,183.01 L267.26,181.86 L267.60,180.70" stroke="#5555ff" stroke-width="1.05" fill="none" stroke-linejoin="round"/>
<rect x="24.20" y="132.50" width="243.40" height="97.00" fill="none" stroke="#707070" stroke-width="1.10"/>
<text x="25.30" y="237.70" font-size="5.20" font-family="'Liberation Sans', Arial, sans-serif" text-anchor="middle" fill="#333">0.02</text>
<text x="52.34" y="237.70" font-size="5.20" font-family="'Liberation Sans', Arial, sans-serif" text-anchor="middle" fill="#333">0.04</text>
<text x="79.39" y="237.70" font-size="5.20" font-family="'Liberation Sans', Arial, sans-serif" text-anchor="middle" fill="#333">0.06</text>
<text x="106.43" y="237.70" font-size="5.20" font-family="'Liberation Sans', Arial, sans-serif" text-anchor="middle" fill="#333">0.08</text>
<text x="133.48" y="237.70" font-size="5.20" font-family="'Liberation Sans', Arial, sans-serif" text-anchor="middle" fill="#333">0.1</text>
<text x="160.52" y="237.70" font-size="5.20" font-family="'Liberation Sans', Arial, sans-serif" text-anchor="middle" fill="#333">0.12</text>
<text x="187.57" y="237.70" font-size="5.20" font-family="'Liberation Sans', Arial, sans-serif" text-anchor="middle" fill="#333">0.14</text>
<text x="214.61" y="237.70" font-size="5.20" font-family="'Liberation Sans', Arial, sans-serif" text-anchor="middle" fill="#333">0.16</text>
<text x="241.66" y="237.70" font-size="5.20" font-family="'Liberation Sans', Arial, sans-serif" text-anchor="middle" fill="#333">0.18</text>
<text x="268.70" y="237.70" font-size="5.20" font-family="'Liberation Sans', Arial, sans-serif" text-anchor="middle" fill="#333">0.2</text>
<text x="23.80" y="134.50" font-size="5.10" font-family="'Liberation Sans', Arial, sans-serif" text-anchor="end" fill="#222">100</text>
<text x="23.80" y="158.75" font-size="5.10" font-family="'Liberation Sans', Arial, sans-serif" text-anchor="end" fill="#222">50</text>
<text x="23.80" y="183.00" font-size="5.10" font-family="'Liberation Sans', Arial, sans-serif" text-anchor="end" fill="#222">0</text>
<text x="23.80" y="207.25" font-size="5.10" font-family="'Liberation Sans', Arial, sans-serif" text-anchor="end" fill="#222">-50</text>
<text x="23.80" y="231.50" font-size="5.10" font-family="'Liberation Sans', Arial, sans-serif" text-anchor="end" fill="#222">-100</text>
<path d="M326.27,132.90V227.40M353.33,132.90V227.40M380.40,132.90V227.40M407.47,132.90V227.40M434.53,132.90V227.40M461.60,132.90V227.40M488.67,132.90V227.40M515.73,132.90V227.40" stroke="#c8c8c8" stroke-width="1" stroke-dasharray="8.6 3.75" stroke-dashoffset="1.25" fill="none"/>
<path d="M299.20,146.40H542.80M299.20,159.90H542.80M299.20,173.40H542.80M299.20,186.90H542.80M299.20,200.40H542.80M299.20,213.90H542.80" stroke="#c8c8c8" stroke-width="1" stroke-dasharray="8.6 3.75" stroke-dashoffset="10.7" fill="none"/>
<path d="M326.27,132.90v2.4M326.27,227.40v-2.4M353.33,132.90v2.4M353.33,227.40v-2.4M380.40,132.90v2.4M380.40,227.40v-2.4M407.47,132.90v2.4M407.47,227.40v-2.4M434.53,132.90v2.4M434.53,227.40v-2.4M461.60,132.90v2.4M461.60,227.40v-2.4M488.67,132.90v2.4M488.67,227.40v-2.4M515.73,132.90v2.4M515.73,227.40v-2.4M299.20,146.40h2.4M542.80,146.40h-2.4M299.20,159.90h2.4M542.80,159.90h-2.4M299.20,173.40h2.4M542.80,173.40h-2.4M299.20,186.90h2.4M542.80,186.90h-2.4M299.20,200.40h2.4M542.80,200.40h-2.4M299.20,213.90h2.4M542.80,213.90h-2.4" stroke="#555" stroke-width="0.8" fill="none"/>
<path d="M299.20,213.50 L299.47,213.48 L299.74,213.47 L300.01,213.46 L300.28,213.44 L300.55,213.43 L300.82,213.42 L301.09,213.41 L301.37,213.40 L301.64,213.38 L301.91,213.37 L302.18,213.36 L302.45,213.35 L302.72,213.34 L302.99,213.32 L303.26,213.31 L303.53,213.30 L303.80,213.29 L304.07,213.28 L304.34,213.27 L304.61,213.25 L304.88,213.24 L305.15,213.23 L305.43,213.22 L305.70,213.21 L305.97,213.20 L306.24,213.19 L306.51,213.18 L306.78,213.17 L307.05,213.15 L307.32,213.14 L307.59,213.13 L307.86,213.12 L308.13,213.11 L308.40,213.10 L308.67,213.09 L308.94,213.08 L309.21,213.07 L309.49,213.06 L309.76,213.05 L310.03,213.04 L310.30,213.03 L310.57,213.02 L310.84,213.01 L311.11,213.00 L311.38,212.99 L311.65,212.98 L311.92,212.97 L312.19,212.96 L312.46,212.95 L312.73,212.94 L313.00,212.93 L313.27,212.92 L313.55,212.91 L313.82,212.90 L314.09,212.89 L314.36,212.88 L314.63,212.88 L314.90,212.87 L315.17,212.86 L315.44,212.85 L315.71,212.84 L315.98,212.83 L316.25,212.82 L316.52,212.81 L316.79,212.80 L317.06,212.80 L317.33,212.79 L317.61,212.78 L317.88,212.77 L318.15,212.76 L318.42,212.75 L318.69,212.74 L318.96,212.74 L319.23,212.73 L319.50,212.72 L319.77,212.71 L320.04,212.70 L320.31,212.69 L320.58,212.69 L320.85,212.68 L321.12,212.67 L321.39,212.66 L321.67,212.65 L321.94,212.65 L322.21,212.64 L322.48,212.63 L322.75,212.62 L323.02,212.61 L323.29,212.61 L323.56,212.60 L323.83,212.59 L324.10,212.58 L324.37,212.58 L324.64,212.57 L324.91,212.56 L325.18,212.55 L325.45,212.55 L325.73,212.54 L326.00,212.53 L326.27,212.53 L326.54,212.52 L326.81,212.51 L327.08,212.50 L327.35,212.50 L327.62,212.49 L327.89,212.48 L328.16,212.48 L328.43,212.47 L328.70,212.46 L328.97,212.46 L329.24,212.45 L329.51,212.44 L329.79,212.44 L330.06,212.43 L330.33,212.42 L330.60,212.42 L330.87,212.41 L331.14,212.40 L331.41,212.40 L331.68,212.39 L331.95,212.38 L332.22,212.38 L332.49,212.37 L332.76,212.36 L333.03,212.36 L333.30,212.35 L333.57,212.35 L333.85,212.34 L334.12,212.33 L334.39,212.33 L334.66,212.32 L334.93,212.32 L335.20,212.31 L335.47,212.30 L335.74,212.30 L336.01,212.29 L336.28,212.29 L336.55,212.28 L336.82,212.27 L337.09,212.27 L337.36,212.26 L337.63,212.26 L337.91,212.25 L338.18,212.25 L338.45,212.24 L338.72,212.23 L338.99,212.23 L339.26,212.22 L339.53,212.22 L339.80,212.21 L340.07,212.21 L340.34,212.20 L340.61,212.20 L340.88,212.19 L341.15,212.19 L341.42,212.18 L341.69,212.18 L341.97,212.17 L342.24,212.17 L342.51,212.16 L342.78,212.16 L343.05,212.15 L343.32,212.15 L343.59,212.14 L343.86,212.14 L344.13,212.13 L344.40,212.13 L344.67,212.12 L344.94,212.12 L345.21,212.11 L345.48,212.11 L345.75,212.10 L346.03,212.10 L346.30,212.09 L346.57,212.09 L346.84,212.08 L347.11,212.08 L347.38,212.07 L347.65,212.07 L347.92,212.06 L348.19,212.06 L348.46,212.05 L348.73,212.05 L349.00,212.05 L349.27,212.04 L349.54,212.04 L349.81,212.03 L350.09,212.03 L350.36,212.02 L350.63,212.02 L350.90,212.02 L351.17,212.01 L351.44,212.01 L351.71,212.00 L351.98,212.00 L352.25,211.99 L352.52,211.99 L352.79,211.99 L353.06,211.98 L353.33,211.98 L353.60,211.97 L353.87,211.97 L354.15,211.97 L354.42,211.96 L354.69,211.96 L354.96,211.95 L355.23,211.95 L355.50,211.95 L355.77,211.94 L356.04,211.94 L356.31,211.93 L356.58,211.93 L356.85,211.93 L357.12,211.92 L357.39,211.92 L357.66,211.92 L357.93,211.91 L358.21,211.91 L358.48,211.90 L358.75,211.90 L359.02,211.90 L359.29,211.89 L359.56,211.89 L359.83,211.89 L360.10,211.88 L360.37,211.88 L360.64,211.88 L360.91,211.87 L361.18,211.87 L361.45,211.87 L361.72,211.86 L361.99,211.86 L362.27,211.86 L362.54,211.85 L362.81,211.85 L363.08,211.85 L363.35,211.84 L363.62,211.84 L363.89,211.84 L364.16,211.83 L364.43,211.83 L364.70,211.83 L364.97,211.82 L365.24,211.82 L365.51,211.82 L365.78,211.81 L366.05,211.81 L366.33,211.81 L366.60,211.80 L366.87,211.80 L367.14,211.80 L367.41,211.80 L367.68,211.79 L367.95,211.79 L368.22,211.79 L368.49,211.78 L368.76,211.78 L369.03,211.78 L369.30,211.77 L369.57,211.77 L369.84,211.77 L370.11,211.77 L370.39,211.76 L370.66,211.76 L370.93,211.76 L371.20,211.75 L371.47,211.75 L371.74,211.75 L372.01,211.75 L372.28,211.74 L372.55,211.74 L372.82,211.74 L373.09,211.74 L373.36,211.73 L373.63,211.73 L373.90,211.73 L374.17,211.73 L374.45,211.72 L374.72,211.72 L374.99,211.72 L375.26,211.71 L375.53,211.71 L375.80,211.71 L376.07,211.71 L376.34,211.70 L376.61,211.70 L376.88,211.70 L377.15,211.70 L377.42,211.69 L377.69,211.69 L377.96,211.69 L378.23,211.69 L378.51,211.69 L378.78,211.68 L379.05,211.68 L379.32,211.68 L379.59,211.68 L379.86,211.67 L380.13,211.67 L380.40,211.67 L380.67,211.67 L380.94,211.66 L381.21,211.66 L381.48,211.66 L381.75,211.66 L382.02,211.66 L382.29,211.65 L382.57,211.65 L382.84,211.65 L383.11,211.65 L383.38,211.64 L383.65,211.64 L383.92,211.64 L384.19,211.64 L384.46,211.64 L384.73,211.63 L385.00,211.63 L385.27,211.63 L385.54,211.63 L385.81,211.63 L386.08,211.62 L386.35,211.62 L386.63,211.62 L386.90,211.62 L387.17,211.62 L387.44,211.61 L387.71,211.61 L387.98,211.61 L388.25,211.61 L388.52,211.61 L388.79,211.60 L389.06,211.60 L389.33,211.60 L389.60,211.60 L389.87,211.60 L390.14,211.59 L390.41,211.59 L390.69,211.59 L390.96,211.59 L391.23,211.59 L391.50,211.58 L391.77,211.58 L392.04,211.58 L392.31,211.58 L392.58,211.58 L392.85,211.58 L393.12,211.57 L393.39,211.57 L393.66,211.57 L393.93,211.57 L394.20,211.57 L394.47,211.57 L394.75,211.56 L395.02,211.56 L395.29,211.56 L395.56,211.56 L395.83,211.56 L396.10,211.56 L396.37,211.55 L396.64,211.55 L396.91,211.55 L397.18,211.55 L397.45,211.55 L397.72,211.55 L397.99,211.54 L398.26,211.54 L398.53,211.54 L398.81,211.54 L399.08,211.54 L399.35,211.54 L399.62,211.53 L399.89,211.53 L400.16,211.53 L400.43,211.53 L400.70,211.53 L400.97,211.53 L401.24,211.53 L401.51,211.52 L401.78,211.52 L402.05,211.52 L402.32,211.52 L402.59,211.52 L402.87,211.52 L403.14,211.52 L403.41,211.51 L403.68,211.51 L403.95,211.51 L404.22,211.51 L404.49,211.51 L404.76,211.51 L405.03,211.51 L405.30,211.50 L405.57,211.50 L405.84,211.50 L406.11,211.50 L406.38,211.50 L406.65,211.50 L406.93,211.35 L407.20,211.34 L407.47,211.33 L407.74,211.32 L408.01,211.30 L408.28,211.28 L408.55,211.23 L408.82,211.02 L409.09,210.65 L409.36,210.18 L409.63,209.64 L409.90,209.07 L410.17,208.50 L410.44,207.88 L410.71,207.15 L410.99,206.35 L411.26,205.51 L411.53,204.67 L411.80,203.87 L412.07,203.13 L412.34,202.34 L412.61,201.58 L412.88,201.00 L413.15,200.67 L413.42,200.45 L413.69,200.29 L413.96,200.15 L414.23,200.01 L414.50,199.83 L414.77,199.61 L415.05,199.36 L415.32,199.09 L415.59,198.78 L415.86,198.41 L416.13,197.97 L416.40,197.43 L416.67,196.45 L416.94,194.93 L417.21,193.18 L417.48,191.56 L417.75,190.29 L418.02,189.14 L418.29,188.06 L418.56,187.04 L418.83,186.09 L419.11,185.21 L419.38,184.43 L419.65,183.73 L419.92,183.07 L420.19,182.41 L420.46,181.71 L420.73,180.93 L421.00,180.02 L421.27,178.84 L421.54,177.39 L421.81,175.86 L422.08,174.42 L422.35,173.24 L422.62,172.23 L422.89,171.26 L423.17,170.33 L423.44,169.44 L423.71,168.61 L423.98,167.82 L424.25,167.09 L424.52,166.42 L424.79,165.81 L425.06,165.27 L425.33,164.77 L425.60,164.30 L425.87,163.85 L426.14,163.43 L426.41,163.04 L426.68,162.68 L426.95,162.34 L427.23,162.05 L427.50,161.78 L427.77,161.56 L428.04,161.37 L428.31,161.18 L428.58,161.00 L428.85,160.84 L429.12,160.69 L429.39,160.55 L429.66,160.43 L429.93,160.33 L430.20,160.25 L430.47,160.18 L430.74,160.13 L431.01,160.09 L431.29,160.05 L431.56,160.01 L431.83,159.97 L432.10,159.93 L432.37,159.90 L432.64,159.87 L432.91,159.84 L433.18,159.82 L433.45,159.80 L433.72,159.79 L433.99,159.77 L434.26,159.77 L434.53,159.77 L434.80,159.77 L435.07,159.77 L435.35,159.77 L435.62,159.77 L435.89,159.77 L436.16,159.77 L436.43,159.77 L436.70,159.77 L436.97,159.77 L437.24,159.77 L437.51,159.77 L437.78,159.77 L438.05,159.77 L438.32,159.78 L438.59,159.78 L438.86,159.78 L439.13,159.79 L439.41,159.79 L439.68,159.79 L439.95,159.80 L440.22,159.81 L440.49,159.81 L440.76,159.82 L441.03,159.82 L441.30,159.83 L441.57,159.83 L441.84,159.84 L442.11,159.84 L442.38,159.84 L442.65,159.84 L442.92,159.84 L443.19,159.84 L443.47,159.84 L443.74,159.85 L444.01,159.85 L444.28,159.85 L444.55,159.85 L444.82,159.85 L445.09,159.85 L445.36,159.85 L445.63,159.86 L445.90,159.86 L446.17,159.86 L446.44,159.86 L446.71,159.86 L446.98,159.86 L447.25,159.86 L447.53,159.87 L447.80,159.87 L448.07,159.87 L448.34,159.87 L448.61,159.87 L448.88,159.87 L449.15,159.87 L449.42,159.88 L449.69,159.88 L449.96,159.88 L450.23,159.88 L450.50,159.88 L450.77,159.88 L451.04,159.88 L451.31,159.89 L451.59,159.89 L451.86,159.89 L452.13,159.89 L452.40,159.89 L452.67,159.89 L452.94,159.89 L453.21,159.90 L453.48,159.90 L453.75,159.90 L454.02,159.90 L454.29,159.90 L454.56,159.90 L454.83,159.90 L455.10,159.91 L455.37,159.91 L455.65,159.91 L455.92,159.91 L456.19,159.91 L456.46,159.91 L456.73,159.91 L457.00,159.92 L457.27,159.92 L457.54,159.92 L457.81,159.92 L458.08,159.92 L458.35,159.92 L458.62,159.92 L458.89,159.93 L459.16,159.93 L459.43,159.93 L459.71,159.93 L459.98,159.93 L460.25,159.93 L460.52,159.93 L460.79,159.94 L461.06,159.94 L461.33,159.94 L461.60,159.94 L461.87,159.94 L462.14,159.94 L462.41,159.94 L462.68,159.95 L462.95,159.95 L463.22,159.95 L463.49,159.95 L463.77,159.95 L464.04,159.95 L464.31,159.95 L464.58,159.96 L464.85,159.96 L465.12,159.96 L465.39,159.96 L465.66,159.96 L465.93,159.96 L466.20,159.96 L466.47,159.97 L466.74,159.97 L467.01,159.97 L467.28,159.97 L467.55,159.97 L467.83,159.97 L468.10,159.98 L468.37,159.98 L468.64,159.98 L468.91,159.98 L469.18,159.98 L469.45,159.98 L469.72,159.98 L469.99,159.99 L470.26,159.99 L470.53,159.99 L470.80,159.99 L471.07,159.99 L471.34,159.99 L471.61,159.99 L471.89,160.00 L472.16,160.00 L472.43,160.00 L472.70,160.00 L472.97,160.00 L473.24,160.00 L473.51,160.00 L473.78,160.01 L474.05,160.01 L474.32,160.01 L474.59,160.01 L474.86,160.01 L475.13,160.01 L475.40,160.01 L475.67,160.02 L475.95,160.02 L476.22,160.02 L476.49,160.02 L476.76,160.02 L477.03,160.02 L477.30,160.02 L477.57,160.03 L477.84,160.03 L478.11,160.03 L478.38,160.03 L478.65,160.03 L478.92,160.03 L479.19,160.03 L479.46,160.04 L479.73,160.04 L480.01,160.04 L480.28,160.04 L480.55,160.04 L480.82,160.04 L481.09,160.04 L481.36,160.05 L481.63,160.05 L481.90,160.05 L482.17,160.05 L482.44,160.05 L482.71,160.05 L482.98,160.05 L483.25,160.06 L483.52,160.06 L483.79,160.06 L484.07,160.06 L484.34,160.06 L484.61,160.06 L484.88,160.06 L485.15,160.07 L485.42,160.07 L485.69,160.07 L485.96,160.07 L486.23,160.07 L486.50,160.07 L486.77,160.07 L487.04,160.08 L487.31,160.08 L487.58,160.08 L487.85,160.08 L488.13,160.08 L488.40,160.08 L488.67,160.08 L488.94,160.09 L489.21,160.09 L489.48,160.09 L489.75,160.09 L490.02,160.09 L490.29,160.09 L490.56,160.09 L490.83,160.10 L491.10,160.10 L491.37,160.10 L491.64,160.10 L491.91,160.10 L492.19,160.10 L492.46,160.10 L492.73,160.11 L493.00,160.11 L493.27,160.11 L493.54,160.11 L493.81,160.11 L494.08,160.11 L494.35,160.11 L494.62,160.12 L494.89,160.12 L495.16,160.12 L495.43,160.12 L495.70,160.12 L495.97,160.12 L496.25,160.12 L496.52,160.13 L496.79,160.13 L497.06,160.13 L497.33,160.13 L497.60,160.13 L497.87,160.13 L498.14,160.13 L498.41,160.14 L498.68,160.14 L498.95,160.14 L499.22,160.14 L499.49,160.14 L499.76,160.14 L500.03,160.14 L500.31,160.15 L500.58,160.15 L500.85,160.15 L501.12,160.15 L501.39,160.15 L501.66,160.15 L501.93,160.16 L502.20,160.16 L502.47,160.16 L502.74,160.16 L503.01,160.16 L503.28,160.16 L503.55,160.16 L503.82,160.17 L504.09,160.17 L504.37,160.17 L504.64,160.17 L504.91,160.17 L505.18,160.17 L505.45,160.17 L505.72,160.18 L505.99,160.18 L506.26,160.18 L506.53,160.18 L506.80,160.18 L507.07,160.18 L507.34,160.18 L507.61,160.19 L507.88,160.19 L508.15,160.19 L508.43,160.19 L508.70,160.19 L508.97,160.19 L509.24,160.19 L509.51,160.20 L509.78,160.20 L510.05,160.20 L510.32,160.20 L510.59,160.20 L510.86,160.20 L511.13,160.20 L511.40,160.21 L511.67,160.21 L511.94,160.21 L512.21,160.21 L512.49,160.21 L512.76,160.21 L513.03,160.21 L513.30,160.22 L513.57,160.22 L513.84,160.22 L514.11,160.22 L514.38,160.22 L514.65,160.22 L514.92,160.22 L515.19,160.23 L515.46,160.23 L515.73,160.23 L516.00,160.23 L516.27,160.23 L516.55,160.23 L516.82,160.23 L517.09,160.24 L517.36,160.24 L517.63,160.24 L517.90,160.24 L518.17,160.24 L518.44,160.24 L518.71,160.24 L518.98,160.25 L519.25,160.25 L519.52,160.25 L519.79,160.25 L520.06,160.25 L520.33,160.25 L520.61,160.25 L520.88,160.26 L521.15,160.26 L521.42,160.26 L521.69,160.26 L521.96,160.26 L522.23,160.26 L522.50,160.26 L522.77,160.27 L523.04,160.27 L523.31,160.27 L523.58,160.27 L523.85,160.27 L524.12,160.27 L524.39,160.27 L524.67,160.28 L524.94,160.28 L525.21,160.28 L525.48,160.28 L525.75,160.28 L526.02,160.28 L526.29,160.28 L526.56,160.29 L526.83,160.29 L527.10,160.29 L527.37,160.29 L527.64,160.29 L527.91,160.29 L528.18,160.29 L528.45,160.30 L528.73,160.30 L529.00,160.30 L529.27,160.30 L529.54,160.30 L529.81,160.30 L530.08,160.30 L530.35,160.31 L530.62,160.31 L530.89,160.31 L531.16,160.31 L531.43,160.31 L531.70,160.31 L531.97,160.31 L532.24,160.32 L532.51,160.32 L532.79,160.32 L533.06,160.32 L533.33,160.32 L533.60,160.32 L533.87,160.32 L534.14,160.33 L534.41,160.33 L534.68,160.33 L534.95,160.33 L535.22,160.33 L535.49,160.33 L535.76,160.34 L536.03,160.34 L536.30,160.34 L536.57,160.34 L536.85,160.34 L537.12,160.34 L537.39,160.34 L537.66,160.35 L537.93,160.35 L538.20,160.35 L538.47,160.35 L538.74,160.35 L539.01,160.35 L539.28,160.35 L539.55,160.36 L539.82,160.36 L540.09,160.36 L540.36,160.36 L540.63,160.36 L540.91,160.36 L541.18,160.36 L541.45,160.37 L541.72,160.37 L541.99,160.37 L542.26,160.37 L542.53,160.37 L542.80,160.37" stroke="#5555ff" stroke-width="1.20" fill="none" stroke-linejoin="round"/>
<rect x="299.20" y="132.90" width="243.60" height="94.50" fill="none" stroke="#8c8c8c" stroke-width="1.30"/>
<text x="300.50" y="235.90" font-size="5.30" font-family="'Liberation Sans', Arial, sans-serif" text-anchor="middle" fill="#333">0.02</text>
<text x="327.57" y="235.90" font-size="5.30" font-family="'Liberation Sans', Arial, sans-serif" text-anchor="middle" fill="#333">0.04</text>
<text x="354.63" y="235.90" font-size="5.30" font-family="'Liberation Sans', Arial, sans-serif" text-anchor="middle" fill="#333">0.06</text>
<text x="381.70" y="235.90" font-size="5.30" font-family="'Liberation Sans', Arial, sans-serif" text-anchor="middle" fill="#333">0.08</text>
<text x="408.77" y="235.90" font-size="5.30" font-family="'Liberation Sans', Arial, sans-serif" text-anchor="middle" fill="#333">0.1</text>
<text x="435.83" y="235.90" font-size="5.30" font-family="'Liberation Sans', Arial, sans-serif" text-anchor="middle" fill="#333">0.12</text>
<text x="462.90" y="235.90" font-size="5.30" font-family="'Liberation Sans', Arial, sans-serif" text-anchor="middle" fill="#333">0.14</text>
<text x="489.97" y="235.90" font-size="5.30" font-family="'Liberation Sans', Arial, sans-serif" text-anchor="middle" fill="#333">0.16</text>
<text x="517.03" y="235.90" font-size="5.30" font-family="'Liberation Sans', Arial, sans-serif" text-anchor="middle" fill="#333">0.18</text>
<text x="544.10" y="235.90" font-size="5.30" font-family="'Liberation Sans', Arial, sans-serif" text-anchor="middle" fill="#333">0.2</text>
<text x="299.00" y="230.20" font-size="5.00" font-family="'Liberation Sans', Arial, sans-serif" text-anchor="end" fill="#222">0.5</text>
<text x="299.00" y="216.70" font-size="5.00" font-family="'Liberation Sans', Arial, sans-serif" text-anchor="end" fill="#222">0.6</text>
<text x="299.00" y="203.20" font-size="5.00" font-family="'Liberation Sans', Arial, sans-serif" text-anchor="end" fill="#222">0.7</text>
<text x="299.00" y="189.70" font-size="5.00" font-family="'Liberation Sans', Arial, sans-serif" text-anchor="end" fill="#222">0.8</text>
<text x="299.00" y="176.20" font-size="5.00" font-family="'Liberation Sans', Arial, sans-serif" text-anchor="end" fill="#222">0.9</text>
<text x="299.00" y="162.70" font-size="5.00" font-family="'Liberation Sans', Arial, sans-serif" text-anchor="end" fill="#222">1</text>
<text x="299.00" y="149.20" font-size="5.00" font-family="'Liberation Sans', Arial, sans-serif" text-anchor="end" fill="#222">1.1</text>
<text x="299.00" y="135.70" font-size="5.00" font-family="'Liberation Sans', Arial, sans-serif" text-anchor="end" fill="#222">1.2</text>
<text x="164.20" y="12.90" font-size="9.4" font-family="'Liberation Serif', 'Noto Serif CJK SC', 'Times New Roman', serif" font-style="italic" fill="#222">U<tspan font-size="6.0" dy="1.2">sa</tspan></text>
<path d="M189.40,20.40L181.28,16.07" stroke="#2a2aee" stroke-width="0.90"/>
<path d="M177.40,14.00L182.22,14.31L180.34,17.84Z" fill="#2a2aee"/>
<text x="171.20" y="32.30" font-size="8.0" font-family="'Liberation Serif', 'Noto Serif CJK SC', 'Times New Roman', serif" font-style="italic" font-weight="bold" fill="#222">i<tspan font-size="6.0" font-weight="normal" dy="1.3">sa</tspan></text>
<path d="M191.50,37.30L184.79,34.16" stroke="#ee1a1a" stroke-width="0.90"/>
<path d="M180.80,32.30L185.63,32.35L183.94,35.97Z" fill="#ee1a1a"/>
<text x="434.60" y="14.60" font-size="9.4" font-family="'Liberation Serif', 'Noto Serif CJK SC', 'Times New Roman', serif" font-style="italic" fill="#222">U<tspan font-size="6.0" dy="1.2">sa</tspan></text>
<path d="M460.30,21.60L451.72,17.21" stroke="#2a2aee" stroke-width="0.90"/>
<path d="M447.80,15.20L452.63,15.43L450.81,18.99Z" fill="#2a2aee"/>
<text x="441.30" y="33.70" font-size="8.0" font-family="'Liberation Serif', 'Noto Serif CJK SC', 'Times New Roman', serif" font-style="italic" font-weight="bold" fill="#222">i<tspan font-size="6.0" font-weight="normal" dy="1.3">pa</tspan></text>
<path d="M463.80,41.50L454.76,35.99" stroke="#ee1a1a" stroke-width="0.90"/>
<path d="M451.00,33.70L455.80,34.28L453.72,37.70Z" fill="#ee1a1a"/>
<text y="152.3" font-family="'Liberation Serif', 'Noto Serif CJK SC', 'Times New Roman', serif" font-style="italic" fill="#222"><tspan x="162.30" font-weight="bold" font-size="8.0">i</tspan><tspan x="164.40" dy="1.3" font-size="6.4">sa</tspan><tspan x="171.00" dy="-1.3" font-size="7.0" font-weight="bold">,</tspan><tspan x="174.10" font-weight="bold" font-size="8.0">i</tspan><tspan x="176.20" dy="1.3" font-size="6.4">sb</tspan><tspan x="182.90" dy="-1.3" font-size="7.0" font-weight="bold">,</tspan><tspan x="185.80" font-weight="bold" font-size="8.0">i</tspan><tspan x="187.90" dy="1.3" font-size="6.4">sc</tspan><tspan dy="-1.3"></tspan></text>
<path d="M189.10,166.70L179.90,157.42" stroke="#111" stroke-width="1.10"/>
<path d="M176.80,154.30L181.32,156.02L178.48,158.83Z" fill="#111"/>
<text transform="translate(8.10,96.70) rotate(-90)" font-size="6.80" font-family="'Liberation Serif', 'Noto Sans CJK SC', serif" fill="#222" textLength="75.60" lengthAdjust="spacingAndGlyphs">Input current（50A/div）</text>
<text transform="translate(17.50,96.40) rotate(-90)" font-size="6.80" font-family="'Liberation Serif', 'Noto Sans CJK SC', serif" fill="#222" textLength="77.00" lengthAdjust="spacingAndGlyphs">Input voltage（300V/div）</text>
<text transform="translate(279.60,96.70) rotate(-90)" font-size="6.40" font-family="'Liberation Sans', 'Noto Sans CJK SC', sans-serif" fill="#222" textLength="80.20" lengthAdjust="spacingAndGlyphs">Output current（50A/div）</text>
<text transform="translate(288.90,96.40) rotate(-90)" font-size="6.40" font-family="'Liberation Sans', 'Noto Sans CJK SC', sans-serif" fill="#222" textLength="79.80" lengthAdjust="spacingAndGlyphs">Input voltage（300V/div）</text>
<text transform="translate(12.60,218.00) rotate(-90)" font-size="6.80" font-family="'Liberation Sans', 'Noto Sans CJK SC', sans-serif" fill="#222" textLength="75.70" lengthAdjust="spacingAndGlyphs">Input current（50A/div）</text>
<text transform="translate(289.90,197.00) rotate(-90)" font-size="6.60" font-family="'Liberation Sans', Arial, sans-serif" fill="#222" textLength="36.80" lengthAdjust="spacingAndGlyphs">Power factor</text>
<text x="134.00" y="117.40" font-size="7.00" font-family="'Liberation Serif', 'Noto Serif CJK SC', 'Times New Roman', serif" text-anchor="start" fill="#222" textLength="23.00" lengthAdjust="spacingAndGlyphs">Time/ (s)</text>
<text x="432.40" y="117.30" font-size="6.60" font-family="'Liberation Serif', 'Noto Serif CJK SC', 'Times New Roman', serif" text-anchor="start" fill="#222" textLength="22.30" lengthAdjust="spacingAndGlyphs">Time/ (s)</text>
<text x="134.40" y="243.50" font-size="6.80" font-family="'Liberation Serif', 'Noto Serif CJK SC', 'Times New Roman', serif" text-anchor="start" fill="#222" textLength="22.80" lengthAdjust="spacingAndGlyphs">Time/ (s)</text>
<text x="433.40" y="243.40" font-size="6.80" font-family="'Liberation Serif', 'Noto Serif CJK SC', 'Times New Roman', serif" text-anchor="start" fill="#222" textLength="22.60" lengthAdjust="spacingAndGlyphs">Time/ (s)</text>
<text class="b" y="126.00" font-size="7.20" font-family="'Liberation Serif', 'Noto Sans CJK SC', serif" fill="#222"><tspan x="76.13">（</tspan><tspan x="84.68">a</tspan><tspan x="88.94">）</tspan><tspan x="94.06" textLength="121.12" lengthAdjust="spacingAndGlyphs">input voltage and input current in phase A</tspan></text>
<text class="b" y="124.60" font-size="7.20" font-family="'Liberation Serif', 'Noto Sans CJK SC', serif" fill="#222"><tspan x="344.93">（</tspan><tspan x="352.38">b</tspan><tspan x="357.14">）</tspan><tspan x="363.96" textLength="124.12" lengthAdjust="spacingAndGlyphs">input voltage and output current in phase A</tspan></text>
<text class="b" y="250.90" font-size="7.20" font-family="'Liberation Serif', 'Noto Sans CJK SC', serif" fill="#222"><tspan x="102.13">（</tspan><tspan x="110.18">c</tspan><tspan x="114.34">）</tspan><tspan x="120.56" textLength="67.52" lengthAdjust="spacingAndGlyphs">input current of the grid</tspan></text>
<text class="b" y="250.90" font-size="7.20" font-family="'Liberation Serif', 'Noto Sans CJK SC', serif" fill="#222"><tspan x="392.13">（</tspan><tspan x="400.18">d</tspan><tspan x="404.94">）</tspan><tspan x="410.56" textLength="67.52" lengthAdjust="spacingAndGlyphs">power factor of the grid</tspan></text>
</g>
</svg></body></html>
